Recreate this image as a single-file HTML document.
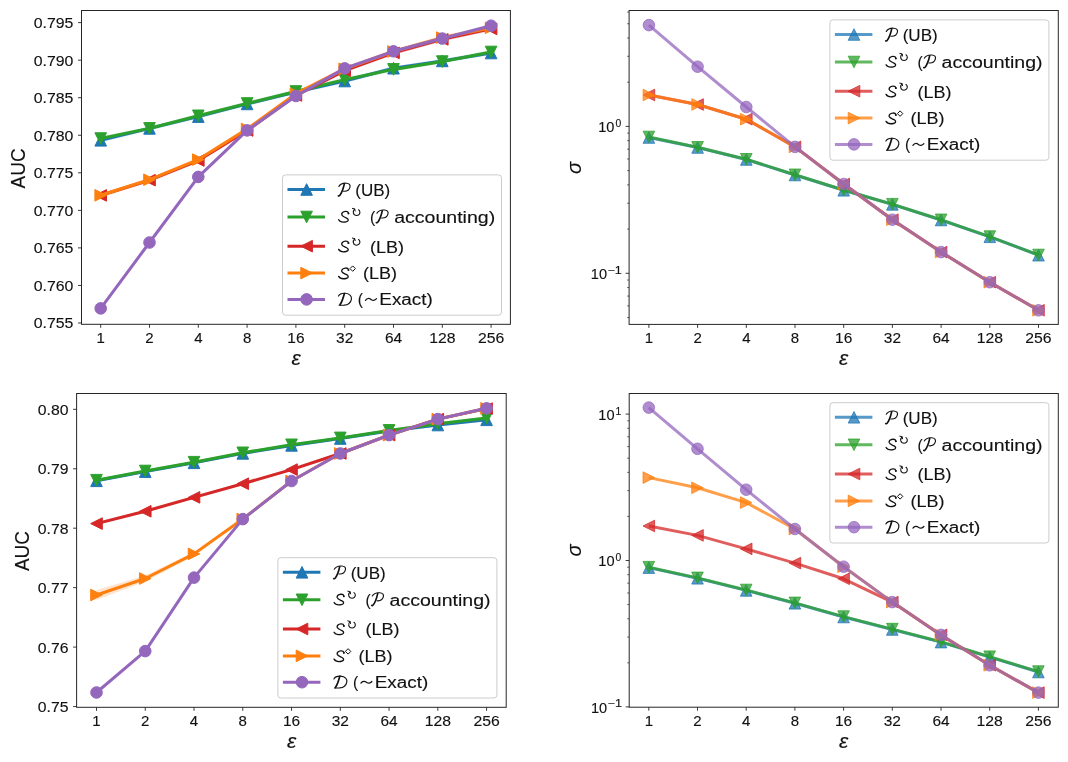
<!DOCTYPE html>
<html><head><meta charset="utf-8"><style>
html,body{margin:0;padding:0;background:#fff;}
svg{display:block;will-change:transform;}
</style></head><body>
<svg width="1068" height="762" viewBox="0 0 1068 762">
<rect x="0" y="0" width="1068" height="762" fill="#fff"/>
<g>
<polygon points="100.70,138.30 149.50,126.40 198.30,114.60 247.10,101.90 295.90,90.00 344.70,79.00 393.50,66.20 442.30,58.90 491.10,51.00 491.10,55.00 442.30,62.90 393.50,70.20 344.70,83.00 295.90,94.00 247.10,105.90 198.30,118.60 149.50,130.40 100.70,142.30" fill="#1f77b4" fill-opacity="0.2" stroke="none"/>
<polyline points="100.70,140.30 149.50,128.40 198.30,116.60 247.10,103.90 295.90,92.00 344.70,81.00 393.50,68.20 442.30,60.90 491.10,53.00" fill="none" stroke="#1f77b4" stroke-opacity="1.0" stroke-width="3.0" stroke-linejoin="round" stroke-linecap="butt"/>
<polygon points="100.70,134.50 94.90,146.10 106.50,146.10" fill="#1f77b4" stroke="#1f77b4" stroke-width="1" stroke-linejoin="miter" fill-opacity="1.0" stroke-opacity="1.0"/>
<polygon points="149.50,122.60 143.70,134.20 155.30,134.20" fill="#1f77b4" stroke="#1f77b4" stroke-width="1" stroke-linejoin="miter" fill-opacity="1.0" stroke-opacity="1.0"/>
<polygon points="198.30,110.80 192.50,122.40 204.10,122.40" fill="#1f77b4" stroke="#1f77b4" stroke-width="1" stroke-linejoin="miter" fill-opacity="1.0" stroke-opacity="1.0"/>
<polygon points="247.10,98.10 241.30,109.70 252.90,109.70" fill="#1f77b4" stroke="#1f77b4" stroke-width="1" stroke-linejoin="miter" fill-opacity="1.0" stroke-opacity="1.0"/>
<polygon points="295.90,86.20 290.10,97.80 301.70,97.80" fill="#1f77b4" stroke="#1f77b4" stroke-width="1" stroke-linejoin="miter" fill-opacity="1.0" stroke-opacity="1.0"/>
<polygon points="344.70,75.20 338.90,86.80 350.50,86.80" fill="#1f77b4" stroke="#1f77b4" stroke-width="1" stroke-linejoin="miter" fill-opacity="1.0" stroke-opacity="1.0"/>
<polygon points="393.50,62.40 387.70,74.00 399.30,74.00" fill="#1f77b4" stroke="#1f77b4" stroke-width="1" stroke-linejoin="miter" fill-opacity="1.0" stroke-opacity="1.0"/>
<polygon points="442.30,55.10 436.50,66.70 448.10,66.70" fill="#1f77b4" stroke="#1f77b4" stroke-width="1" stroke-linejoin="miter" fill-opacity="1.0" stroke-opacity="1.0"/>
<polygon points="491.10,47.20 485.30,58.80 496.90,58.80" fill="#1f77b4" stroke="#1f77b4" stroke-width="1" stroke-linejoin="miter" fill-opacity="1.0" stroke-opacity="1.0"/>
<polygon points="100.70,136.55 149.50,126.40 198.30,113.80 247.10,101.50 295.90,89.50 344.70,77.60 393.50,67.40 442.30,59.60 491.10,50.00 491.10,54.00 442.30,63.60 393.50,71.40 344.70,81.60 295.90,93.50 247.10,105.50 198.30,117.80 149.50,130.40 100.70,140.55" fill="#2ca02c" fill-opacity="0.2" stroke="none"/>
<polyline points="100.70,138.55 149.50,128.40 198.30,115.80 247.10,103.50 295.90,91.50 344.70,79.60 393.50,69.40 442.30,61.60 491.10,52.00" fill="none" stroke="#2ca02c" stroke-opacity="1.0" stroke-width="3.0" stroke-linejoin="round" stroke-linecap="butt"/>
<polygon points="100.70,144.35 94.90,132.75 106.50,132.75" fill="#2ca02c" stroke="#2ca02c" stroke-width="1" stroke-linejoin="miter" fill-opacity="1.0" stroke-opacity="1.0"/>
<polygon points="149.50,134.20 143.70,122.60 155.30,122.60" fill="#2ca02c" stroke="#2ca02c" stroke-width="1" stroke-linejoin="miter" fill-opacity="1.0" stroke-opacity="1.0"/>
<polygon points="198.30,121.60 192.50,110.00 204.10,110.00" fill="#2ca02c" stroke="#2ca02c" stroke-width="1" stroke-linejoin="miter" fill-opacity="1.0" stroke-opacity="1.0"/>
<polygon points="247.10,109.30 241.30,97.70 252.90,97.70" fill="#2ca02c" stroke="#2ca02c" stroke-width="1" stroke-linejoin="miter" fill-opacity="1.0" stroke-opacity="1.0"/>
<polygon points="295.90,97.30 290.10,85.70 301.70,85.70" fill="#2ca02c" stroke="#2ca02c" stroke-width="1" stroke-linejoin="miter" fill-opacity="1.0" stroke-opacity="1.0"/>
<polygon points="344.70,85.40 338.90,73.80 350.50,73.80" fill="#2ca02c" stroke="#2ca02c" stroke-width="1" stroke-linejoin="miter" fill-opacity="1.0" stroke-opacity="1.0"/>
<polygon points="393.50,75.20 387.70,63.60 399.30,63.60" fill="#2ca02c" stroke="#2ca02c" stroke-width="1" stroke-linejoin="miter" fill-opacity="1.0" stroke-opacity="1.0"/>
<polygon points="442.30,67.40 436.50,55.80 448.10,55.80" fill="#2ca02c" stroke="#2ca02c" stroke-width="1" stroke-linejoin="miter" fill-opacity="1.0" stroke-opacity="1.0"/>
<polygon points="491.10,57.80 485.30,46.20 496.90,46.20" fill="#2ca02c" stroke="#2ca02c" stroke-width="1" stroke-linejoin="miter" fill-opacity="1.0" stroke-opacity="1.0"/>
<polygon points="100.70,193.40 149.50,178.20 198.30,158.50 247.10,128.50 295.90,93.50 344.70,68.60 393.50,50.90 442.30,37.40 491.10,26.90 491.10,30.90 442.30,41.40 393.50,54.90 344.70,72.60 295.90,97.50 247.10,132.50 198.30,162.50 149.50,182.20 100.70,197.40" fill="#d62728" fill-opacity="0.2" stroke="none"/>
<polyline points="100.70,195.40 149.50,180.20 198.30,160.50 247.10,130.50 295.90,95.50 344.70,70.60 393.50,52.90 442.30,39.40 491.10,28.90" fill="none" stroke="#d62728" stroke-opacity="1.0" stroke-width="3.0" stroke-linejoin="round" stroke-linecap="butt"/>
<polygon points="94.90,195.40 106.50,189.60 106.50,201.20" fill="#d62728" stroke="#d62728" stroke-width="1" stroke-linejoin="miter" fill-opacity="1.0" stroke-opacity="1.0"/>
<polygon points="143.70,180.20 155.30,174.40 155.30,186.00" fill="#d62728" stroke="#d62728" stroke-width="1" stroke-linejoin="miter" fill-opacity="1.0" stroke-opacity="1.0"/>
<polygon points="192.50,160.50 204.10,154.70 204.10,166.30" fill="#d62728" stroke="#d62728" stroke-width="1" stroke-linejoin="miter" fill-opacity="1.0" stroke-opacity="1.0"/>
<polygon points="241.30,130.50 252.90,124.70 252.90,136.30" fill="#d62728" stroke="#d62728" stroke-width="1" stroke-linejoin="miter" fill-opacity="1.0" stroke-opacity="1.0"/>
<polygon points="290.10,95.50 301.70,89.70 301.70,101.30" fill="#d62728" stroke="#d62728" stroke-width="1" stroke-linejoin="miter" fill-opacity="1.0" stroke-opacity="1.0"/>
<polygon points="338.90,70.60 350.50,64.80 350.50,76.40" fill="#d62728" stroke="#d62728" stroke-width="1" stroke-linejoin="miter" fill-opacity="1.0" stroke-opacity="1.0"/>
<polygon points="387.70,52.90 399.30,47.10 399.30,58.70" fill="#d62728" stroke="#d62728" stroke-width="1" stroke-linejoin="miter" fill-opacity="1.0" stroke-opacity="1.0"/>
<polygon points="436.50,39.40 448.10,33.60 448.10,45.20" fill="#d62728" stroke="#d62728" stroke-width="1" stroke-linejoin="miter" fill-opacity="1.0" stroke-opacity="1.0"/>
<polygon points="485.30,28.90 496.90,23.10 496.90,34.70" fill="#d62728" stroke="#d62728" stroke-width="1" stroke-linejoin="miter" fill-opacity="1.0" stroke-opacity="1.0"/>
<polygon points="100.70,193.30 149.50,177.70 198.30,157.60 247.10,127.00 295.90,91.70 344.70,66.80 393.50,49.50 442.30,35.60 491.10,25.80 491.10,29.80 442.30,39.60 393.50,53.50 344.70,70.80 295.90,95.70 247.10,131.00 198.30,161.60 149.50,181.70 100.70,197.30" fill="#ff7f0e" fill-opacity="0.2" stroke="none"/>
<polyline points="100.70,195.30 149.50,179.70 198.30,159.60 247.10,129.00 295.90,93.70 344.70,68.80 393.50,51.50 442.30,37.60 491.10,27.80" fill="none" stroke="#ff7f0e" stroke-opacity="1.0" stroke-width="3.0" stroke-linejoin="round" stroke-linecap="butt"/>
<polygon points="106.50,195.30 94.90,189.50 94.90,201.10" fill="#ff7f0e" stroke="#ff7f0e" stroke-width="1" stroke-linejoin="miter" fill-opacity="1.0" stroke-opacity="1.0"/>
<polygon points="155.30,179.70 143.70,173.90 143.70,185.50" fill="#ff7f0e" stroke="#ff7f0e" stroke-width="1" stroke-linejoin="miter" fill-opacity="1.0" stroke-opacity="1.0"/>
<polygon points="204.10,159.60 192.50,153.80 192.50,165.40" fill="#ff7f0e" stroke="#ff7f0e" stroke-width="1" stroke-linejoin="miter" fill-opacity="1.0" stroke-opacity="1.0"/>
<polygon points="252.90,129.00 241.30,123.20 241.30,134.80" fill="#ff7f0e" stroke="#ff7f0e" stroke-width="1" stroke-linejoin="miter" fill-opacity="1.0" stroke-opacity="1.0"/>
<polygon points="301.70,93.70 290.10,87.90 290.10,99.50" fill="#ff7f0e" stroke="#ff7f0e" stroke-width="1" stroke-linejoin="miter" fill-opacity="1.0" stroke-opacity="1.0"/>
<polygon points="350.50,68.80 338.90,63.00 338.90,74.60" fill="#ff7f0e" stroke="#ff7f0e" stroke-width="1" stroke-linejoin="miter" fill-opacity="1.0" stroke-opacity="1.0"/>
<polygon points="399.30,51.50 387.70,45.70 387.70,57.30" fill="#ff7f0e" stroke="#ff7f0e" stroke-width="1" stroke-linejoin="miter" fill-opacity="1.0" stroke-opacity="1.0"/>
<polygon points="448.10,37.60 436.50,31.80 436.50,43.40" fill="#ff7f0e" stroke="#ff7f0e" stroke-width="1" stroke-linejoin="miter" fill-opacity="1.0" stroke-opacity="1.0"/>
<polygon points="496.90,27.80 485.30,22.00 485.30,33.60" fill="#ff7f0e" stroke="#ff7f0e" stroke-width="1" stroke-linejoin="miter" fill-opacity="1.0" stroke-opacity="1.0"/>
<polygon points="100.70,306.40 149.50,240.50 198.30,174.90 247.10,128.40 295.90,94.00 344.70,66.40 393.50,49.30 442.30,36.55 491.10,23.70 491.10,27.70 442.30,40.55 393.50,53.30 344.70,70.40 295.90,98.00 247.10,132.40 198.30,178.90 149.50,244.50 100.70,310.40" fill="#9467bd" fill-opacity="0.2" stroke="none"/>
<polyline points="100.70,308.40 149.50,242.50 198.30,176.90 247.10,130.40 295.90,96.00 344.70,68.40 393.50,51.30 442.30,38.55 491.10,25.70" fill="none" stroke="#9467bd" stroke-opacity="1.0" stroke-width="3.0" stroke-linejoin="round" stroke-linecap="butt"/>
<circle cx="100.70" cy="308.40" r="5.80" fill="#9467bd" stroke="#9467bd" stroke-width="1" stroke-linejoin="miter" fill-opacity="1.0" stroke-opacity="1.0"/>
<circle cx="149.50" cy="242.50" r="5.80" fill="#9467bd" stroke="#9467bd" stroke-width="1" stroke-linejoin="miter" fill-opacity="1.0" stroke-opacity="1.0"/>
<circle cx="198.30" cy="176.90" r="5.80" fill="#9467bd" stroke="#9467bd" stroke-width="1" stroke-linejoin="miter" fill-opacity="1.0" stroke-opacity="1.0"/>
<circle cx="247.10" cy="130.40" r="5.80" fill="#9467bd" stroke="#9467bd" stroke-width="1" stroke-linejoin="miter" fill-opacity="1.0" stroke-opacity="1.0"/>
<circle cx="295.90" cy="96.00" r="5.80" fill="#9467bd" stroke="#9467bd" stroke-width="1" stroke-linejoin="miter" fill-opacity="1.0" stroke-opacity="1.0"/>
<circle cx="344.70" cy="68.40" r="5.80" fill="#9467bd" stroke="#9467bd" stroke-width="1" stroke-linejoin="miter" fill-opacity="1.0" stroke-opacity="1.0"/>
<circle cx="393.50" cy="51.30" r="5.80" fill="#9467bd" stroke="#9467bd" stroke-width="1" stroke-linejoin="miter" fill-opacity="1.0" stroke-opacity="1.0"/>
<circle cx="442.30" cy="38.55" r="5.80" fill="#9467bd" stroke="#9467bd" stroke-width="1" stroke-linejoin="miter" fill-opacity="1.0" stroke-opacity="1.0"/>
<circle cx="491.10" cy="25.70" r="5.80" fill="#9467bd" stroke="#9467bd" stroke-width="1" stroke-linejoin="miter" fill-opacity="1.0" stroke-opacity="1.0"/>
<rect x="81.50" y="10.50" width="428.90" height="313.80" fill="none" stroke="#262626" stroke-width="1"/>
<line x1="100.70" y1="324.30" x2="100.70" y2="327.80" stroke="#262626" stroke-width="0.9"/>
<text x="100.70" y="342.70" font-family="Liberation Sans, sans-serif" font-size="15" text-anchor="middle" fill="#111" stroke="#111" stroke-width="0.12">1</text>
<line x1="149.50" y1="324.30" x2="149.50" y2="327.80" stroke="#262626" stroke-width="0.9"/>
<text x="149.50" y="342.70" font-family="Liberation Sans, sans-serif" font-size="15" text-anchor="middle" fill="#111" stroke="#111" stroke-width="0.12">2</text>
<line x1="198.30" y1="324.30" x2="198.30" y2="327.80" stroke="#262626" stroke-width="0.9"/>
<text x="198.30" y="342.70" font-family="Liberation Sans, sans-serif" font-size="15" text-anchor="middle" fill="#111" stroke="#111" stroke-width="0.12">4</text>
<line x1="247.10" y1="324.30" x2="247.10" y2="327.80" stroke="#262626" stroke-width="0.9"/>
<text x="247.10" y="342.70" font-family="Liberation Sans, sans-serif" font-size="15" text-anchor="middle" fill="#111" stroke="#111" stroke-width="0.12">8</text>
<line x1="295.90" y1="324.30" x2="295.90" y2="327.80" stroke="#262626" stroke-width="0.9"/>
<text x="295.90" y="342.70" font-family="Liberation Sans, sans-serif" font-size="15" textLength="17.2" lengthAdjust="spacingAndGlyphs" text-anchor="middle" fill="#111" stroke="#111" stroke-width="0.12">16</text>
<line x1="344.70" y1="324.30" x2="344.70" y2="327.80" stroke="#262626" stroke-width="0.9"/>
<text x="344.70" y="342.70" font-family="Liberation Sans, sans-serif" font-size="15" textLength="17.2" lengthAdjust="spacingAndGlyphs" text-anchor="middle" fill="#111" stroke="#111" stroke-width="0.12">32</text>
<line x1="393.50" y1="324.30" x2="393.50" y2="327.80" stroke="#262626" stroke-width="0.9"/>
<text x="393.50" y="342.70" font-family="Liberation Sans, sans-serif" font-size="15" textLength="17.2" lengthAdjust="spacingAndGlyphs" text-anchor="middle" fill="#111" stroke="#111" stroke-width="0.12">64</text>
<line x1="442.30" y1="324.30" x2="442.30" y2="327.80" stroke="#262626" stroke-width="0.9"/>
<text x="442.30" y="342.70" font-family="Liberation Sans, sans-serif" font-size="15" textLength="26.3" lengthAdjust="spacingAndGlyphs" text-anchor="middle" fill="#111" stroke="#111" stroke-width="0.12">128</text>
<line x1="491.10" y1="324.30" x2="491.10" y2="327.80" stroke="#262626" stroke-width="0.9"/>
<text x="491.10" y="342.70" font-family="Liberation Sans, sans-serif" font-size="15" textLength="26.3" lengthAdjust="spacingAndGlyphs" text-anchor="middle" fill="#111" stroke="#111" stroke-width="0.12">256</text>
<line x1="78.00" y1="323.00" x2="81.50" y2="323.00" stroke="#262626" stroke-width="0.9"/>
<text x="73.40" y="328.40" font-family="Liberation Sans, sans-serif" font-size="14.6" text-anchor="end" textLength="39.7" lengthAdjust="spacingAndGlyphs" fill="#111" stroke="#111" stroke-width="0.12">0.755</text>
<line x1="78.00" y1="285.45" x2="81.50" y2="285.45" stroke="#262626" stroke-width="0.9"/>
<text x="73.40" y="290.85" font-family="Liberation Sans, sans-serif" font-size="14.6" text-anchor="end" textLength="39.7" lengthAdjust="spacingAndGlyphs" fill="#111" stroke="#111" stroke-width="0.12">0.760</text>
<line x1="78.00" y1="247.90" x2="81.50" y2="247.90" stroke="#262626" stroke-width="0.9"/>
<text x="73.40" y="253.30" font-family="Liberation Sans, sans-serif" font-size="14.6" text-anchor="end" textLength="39.7" lengthAdjust="spacingAndGlyphs" fill="#111" stroke="#111" stroke-width="0.12">0.765</text>
<line x1="78.00" y1="210.35" x2="81.50" y2="210.35" stroke="#262626" stroke-width="0.9"/>
<text x="73.40" y="215.75" font-family="Liberation Sans, sans-serif" font-size="14.6" text-anchor="end" textLength="39.7" lengthAdjust="spacingAndGlyphs" fill="#111" stroke="#111" stroke-width="0.12">0.770</text>
<line x1="78.00" y1="172.80" x2="81.50" y2="172.80" stroke="#262626" stroke-width="0.9"/>
<text x="73.40" y="178.20" font-family="Liberation Sans, sans-serif" font-size="14.6" text-anchor="end" textLength="39.7" lengthAdjust="spacingAndGlyphs" fill="#111" stroke="#111" stroke-width="0.12">0.775</text>
<line x1="78.00" y1="135.25" x2="81.50" y2="135.25" stroke="#262626" stroke-width="0.9"/>
<text x="73.40" y="140.65" font-family="Liberation Sans, sans-serif" font-size="14.6" text-anchor="end" textLength="39.7" lengthAdjust="spacingAndGlyphs" fill="#111" stroke="#111" stroke-width="0.12">0.780</text>
<line x1="78.00" y1="97.70" x2="81.50" y2="97.70" stroke="#262626" stroke-width="0.9"/>
<text x="73.40" y="103.10" font-family="Liberation Sans, sans-serif" font-size="14.6" text-anchor="end" textLength="39.7" lengthAdjust="spacingAndGlyphs" fill="#111" stroke="#111" stroke-width="0.12">0.785</text>
<line x1="78.00" y1="60.15" x2="81.50" y2="60.15" stroke="#262626" stroke-width="0.9"/>
<text x="73.40" y="65.55" font-family="Liberation Sans, sans-serif" font-size="14.6" text-anchor="end" textLength="39.7" lengthAdjust="spacingAndGlyphs" fill="#111" stroke="#111" stroke-width="0.12">0.790</text>
<line x1="78.00" y1="22.60" x2="81.50" y2="22.60" stroke="#262626" stroke-width="0.9"/>
<text x="73.40" y="28.00" font-family="Liberation Sans, sans-serif" font-size="14.6" text-anchor="end" textLength="39.7" lengthAdjust="spacingAndGlyphs" fill="#111" stroke="#111" stroke-width="0.12">0.795</text>
<text x="296.20" y="364.80" font-family="Liberation Sans, sans-serif" font-style="italic" font-size="21" text-anchor="middle" fill="#111" stroke="#111" stroke-width="0.12">ε</text>
<text transform="translate(24.60,168.40) rotate(-90)" x="0" y="0" font-family="Liberation Sans, sans-serif" font-size="20.5" text-anchor="middle" textLength="40" lengthAdjust="spacingAndGlyphs" fill="#111" stroke="#111" stroke-width="0.12">AUC</text>
<rect x="282.50" y="174.90" width="219.00" height="140.30" rx="3" ry="3" fill="#fff" fill-opacity="0.8" stroke="#cccccc" stroke-width="1"/>
<line x1="287.50" y1="189.50" x2="325.00" y2="189.50" stroke="#1f77b4" stroke-opacity="1.0" stroke-width="3.0"/>
<polygon points="306.60,183.70 300.80,195.30 312.40,195.30" fill="#1f77b4" stroke="#1f77b4" stroke-width="1" stroke-linejoin="miter" fill-opacity="1.0" stroke-opacity="1.0"/>
<line x1="287.50" y1="217.00" x2="325.00" y2="217.00" stroke="#2ca02c" stroke-opacity="1.0" stroke-width="3.0"/>
<polygon points="306.60,222.80 300.80,211.20 312.40,211.20" fill="#2ca02c" stroke="#2ca02c" stroke-width="1" stroke-linejoin="miter" fill-opacity="1.0" stroke-opacity="1.0"/>
<line x1="287.50" y1="246.20" x2="325.00" y2="246.20" stroke="#d62728" stroke-opacity="1.0" stroke-width="3.0"/>
<polygon points="300.80,246.20 312.40,240.40 312.40,252.00" fill="#d62728" stroke="#d62728" stroke-width="1" stroke-linejoin="miter" fill-opacity="1.0" stroke-opacity="1.0"/>
<line x1="287.50" y1="273.10" x2="325.00" y2="273.10" stroke="#ff7f0e" stroke-opacity="1.0" stroke-width="3.0"/>
<polygon points="312.40,273.10 300.80,267.30 300.80,278.90" fill="#ff7f0e" stroke="#ff7f0e" stroke-width="1" stroke-linejoin="miter" fill-opacity="1.0" stroke-opacity="1.0"/>
<line x1="287.50" y1="299.40" x2="325.00" y2="299.40" stroke="#9467bd" stroke-opacity="1.0" stroke-width="3.0"/>
<circle cx="306.60" cy="299.40" r="5.80" fill="#9467bd" stroke="#9467bd" stroke-width="1" stroke-linejoin="miter" fill-opacity="1.0" stroke-opacity="1.0"/>
<g transform="translate(337.70,196.00)" fill="none" stroke="#111" stroke-linecap="round"><path d="M 1.2,-9.6 C 2.6,-12.0 5.6,-13.0 8.6,-12.8 C 11.6,-12.6 12.9,-11.0 12.3,-8.9 C 11.6,-6.4 9.0,-4.5 5.9,-4.8" stroke-width="1.15"/><path d="M 6.6,-12.0 C 5.7,-8.0 4.2,-3.2 2.0,-0.5 C 1.5,0.1 0.8,0.1 0.6,-0.2" stroke-width="1.6"/></g>
<text x="355.30" y="196.00" font-family="Liberation Sans, sans-serif" font-size="15.6" textLength="35" lengthAdjust="spacingAndGlyphs" fill="#111" stroke="#111" stroke-width="0.12">(UB)</text>
<g transform="translate(338.30,222.60) scale(0.95,0.9)" fill="none" stroke="#111" stroke-linecap="round"><path d="M 10.8,-10.3 C 10.4,-11.9 9.0,-12.5 7.5,-12.4 C 5.0,-12.2 3.2,-10.6 3.7,-8.6 C 4.2,-6.8 6.5,-6.1 8.2,-5.3 C 10.0,-4.5 10.8,-3.3 10.2,-2.1 C 9.3,-0.5 7.0,-0.5 5.3,-0.5 C 3.0,-0.5 1.2,-1.7 0.4,-3.2" stroke-width="1.45"/><circle cx="10.7" cy="-10.1" r="1.0" fill="#111" stroke="none"/></g>
<g transform="translate(337.70,222.80)" fill="none" stroke="#111" stroke-width="1.1" stroke-linecap="round"><path d="M 16.9,-13.6 C 15.9,-12.6 15.3,-11.2 15.7,-9.7 C 16.2,-8.0 17.6,-7.3 18.9,-7.3 C 20.8,-7.3 22.3,-8.8 22.2,-10.6 C 22.1,-11.8 21.6,-12.5 20.9,-13.0"/><path d="M 14.7,-14.4 L 17.0,-13.9 L 17.4,-11.8" stroke-width="1.0"/></g>
<text x="370.00" y="222.80" font-family="Liberation Sans, sans-serif" font-size="15.6" fill="#111" stroke="#111" stroke-width="0.12">(</text>
<g transform="translate(375.70,222.80)" fill="none" stroke="#111" stroke-linecap="round"><path d="M 1.2,-9.6 C 2.6,-12.0 5.6,-13.0 8.6,-12.8 C 11.6,-12.6 12.9,-11.0 12.3,-8.9 C 11.6,-6.4 9.0,-4.5 5.9,-4.8" stroke-width="1.15"/><path d="M 6.6,-12.0 C 5.7,-8.0 4.2,-3.2 2.0,-0.5 C 1.5,0.1 0.8,0.1 0.6,-0.2" stroke-width="1.6"/></g>
<text x="394.20" y="222.80" font-family="Liberation Sans, sans-serif" font-size="15.6" textLength="101" lengthAdjust="spacingAndGlyphs" fill="#111" stroke="#111" stroke-width="0.12">accounting)</text>
<g transform="translate(338.30,252.30) scale(0.95,0.9)" fill="none" stroke="#111" stroke-linecap="round"><path d="M 10.8,-10.3 C 10.4,-11.9 9.0,-12.5 7.5,-12.4 C 5.0,-12.2 3.2,-10.6 3.7,-8.6 C 4.2,-6.8 6.5,-6.1 8.2,-5.3 C 10.0,-4.5 10.8,-3.3 10.2,-2.1 C 9.3,-0.5 7.0,-0.5 5.3,-0.5 C 3.0,-0.5 1.2,-1.7 0.4,-3.2" stroke-width="1.45"/><circle cx="10.7" cy="-10.1" r="1.0" fill="#111" stroke="none"/></g>
<g transform="translate(337.70,252.50)" fill="none" stroke="#111" stroke-width="1.1" stroke-linecap="round"><path d="M 16.9,-13.6 C 15.9,-12.6 15.3,-11.2 15.7,-9.7 C 16.2,-8.0 17.6,-7.3 18.9,-7.3 C 20.8,-7.3 22.3,-8.8 22.2,-10.6 C 22.1,-11.8 21.6,-12.5 20.9,-13.0"/><path d="M 14.7,-14.4 L 17.0,-13.9 L 17.4,-11.8" stroke-width="1.0"/></g>
<text x="370.00" y="252.50" font-family="Liberation Sans, sans-serif" font-size="15.6" textLength="34" lengthAdjust="spacingAndGlyphs" fill="#111" stroke="#111" stroke-width="0.12">(LB)</text>
<g transform="translate(338.30,279.20) scale(0.95,0.9)" fill="none" stroke="#111" stroke-linecap="round"><path d="M 10.8,-10.3 C 10.4,-11.9 9.0,-12.5 7.5,-12.4 C 5.0,-12.2 3.2,-10.6 3.7,-8.6 C 4.2,-6.8 6.5,-6.1 8.2,-5.3 C 10.0,-4.5 10.8,-3.3 10.2,-2.1 C 9.3,-0.5 7.0,-0.5 5.3,-0.5 C 3.0,-0.5 1.2,-1.7 0.4,-3.2" stroke-width="1.45"/><circle cx="10.7" cy="-10.1" r="1.0" fill="#111" stroke="none"/></g>
<path d="M 352.70 265.90 L 355.40 268.60 L 352.70 271.30 L 350.00 268.60 Z" fill="none" stroke="#111" stroke-width="1.0"/>
<text x="363.00" y="279.40" font-family="Liberation Sans, sans-serif" font-size="15.6" textLength="34" lengthAdjust="spacingAndGlyphs" fill="#111" stroke="#111" stroke-width="0.12">(LB)</text>
<g transform="translate(337.70,304.70)" fill="none" stroke="#111" stroke-linecap="round"><path d="M 0.8,-8.6 C 1.9,-10.9 4.6,-11.6 7.6,-11.4 C 12.1,-11.0 14.3,-8.4 13.7,-5.4 C 13.0,-1.9 10.0,0.2 6.5,0.4 L 1.4,0.5" stroke-width="1.15"/><path d="M 6.7,-11.2 C 5.6,-7.0 4.4,-3.0 2.3,0.1" stroke-width="1.7"/></g>
<text x="357.70" y="304.70" font-family="Liberation Sans, sans-serif" font-size="15.6" fill="#111" stroke="#111" stroke-width="0.12">(</text>
<path transform="translate(337.70,304.70)" d="M 27.8,-4.4 C 29.5,-6.6 31.5,-6.7 33.3,-5.3 C 35.0,-3.9 37.0,-3.8 38.8,-6.0" fill="none" stroke="#111" stroke-width="1.25" stroke-linecap="round"/>
<text x="379.30" y="304.70" font-family="Liberation Sans, sans-serif" font-size="15.6" textLength="53.5" lengthAdjust="spacingAndGlyphs" fill="#111" stroke="#111" stroke-width="0.12">Exact)</text>
</g>
<polyline points="648.90,137.50 697.60,147.50 746.30,159.50 795.00,175.00 843.70,190.30 892.40,204.40 941.10,220.00 989.80,236.80 1038.50,255.20" fill="none" stroke="#1f77b4" stroke-opacity="0.75" stroke-width="3.0" stroke-linejoin="round" stroke-linecap="butt"/>
<polygon points="648.90,131.70 643.10,143.30 654.70,143.30" fill="#1f77b4" stroke="#1f77b4" stroke-width="1" stroke-linejoin="miter" fill-opacity="0.75" stroke-opacity="0.75"/>
<polygon points="697.60,141.70 691.80,153.30 703.40,153.30" fill="#1f77b4" stroke="#1f77b4" stroke-width="1" stroke-linejoin="miter" fill-opacity="0.75" stroke-opacity="0.75"/>
<polygon points="746.30,153.70 740.50,165.30 752.10,165.30" fill="#1f77b4" stroke="#1f77b4" stroke-width="1" stroke-linejoin="miter" fill-opacity="0.75" stroke-opacity="0.75"/>
<polygon points="795.00,169.20 789.20,180.80 800.80,180.80" fill="#1f77b4" stroke="#1f77b4" stroke-width="1" stroke-linejoin="miter" fill-opacity="0.75" stroke-opacity="0.75"/>
<polygon points="843.70,184.50 837.90,196.10 849.50,196.10" fill="#1f77b4" stroke="#1f77b4" stroke-width="1" stroke-linejoin="miter" fill-opacity="0.75" stroke-opacity="0.75"/>
<polygon points="892.40,198.60 886.60,210.20 898.20,210.20" fill="#1f77b4" stroke="#1f77b4" stroke-width="1" stroke-linejoin="miter" fill-opacity="0.75" stroke-opacity="0.75"/>
<polygon points="941.10,214.20 935.30,225.80 946.90,225.80" fill="#1f77b4" stroke="#1f77b4" stroke-width="1" stroke-linejoin="miter" fill-opacity="0.75" stroke-opacity="0.75"/>
<polygon points="989.80,231.00 984.00,242.60 995.60,242.60" fill="#1f77b4" stroke="#1f77b4" stroke-width="1" stroke-linejoin="miter" fill-opacity="0.75" stroke-opacity="0.75"/>
<polygon points="1038.50,249.40 1032.70,261.00 1044.30,261.00" fill="#1f77b4" stroke="#1f77b4" stroke-width="1" stroke-linejoin="miter" fill-opacity="0.75" stroke-opacity="0.75"/>
<polyline points="648.90,137.00 697.60,147.30 746.30,159.30 795.00,174.80 843.70,190.00 892.40,204.20 941.10,219.80 989.80,236.60 1038.50,255.00" fill="none" stroke="#2ca02c" stroke-opacity="0.75" stroke-width="3.0" stroke-linejoin="round" stroke-linecap="butt"/>
<polygon points="648.90,142.80 643.10,131.20 654.70,131.20" fill="#2ca02c" stroke="#2ca02c" stroke-width="1" stroke-linejoin="miter" fill-opacity="0.75" stroke-opacity="0.75"/>
<polygon points="697.60,153.10 691.80,141.50 703.40,141.50" fill="#2ca02c" stroke="#2ca02c" stroke-width="1" stroke-linejoin="miter" fill-opacity="0.75" stroke-opacity="0.75"/>
<polygon points="746.30,165.10 740.50,153.50 752.10,153.50" fill="#2ca02c" stroke="#2ca02c" stroke-width="1" stroke-linejoin="miter" fill-opacity="0.75" stroke-opacity="0.75"/>
<polygon points="795.00,180.60 789.20,169.00 800.80,169.00" fill="#2ca02c" stroke="#2ca02c" stroke-width="1" stroke-linejoin="miter" fill-opacity="0.75" stroke-opacity="0.75"/>
<polygon points="843.70,195.80 837.90,184.20 849.50,184.20" fill="#2ca02c" stroke="#2ca02c" stroke-width="1" stroke-linejoin="miter" fill-opacity="0.75" stroke-opacity="0.75"/>
<polygon points="892.40,210.00 886.60,198.40 898.20,198.40" fill="#2ca02c" stroke="#2ca02c" stroke-width="1" stroke-linejoin="miter" fill-opacity="0.75" stroke-opacity="0.75"/>
<polygon points="941.10,225.60 935.30,214.00 946.90,214.00" fill="#2ca02c" stroke="#2ca02c" stroke-width="1" stroke-linejoin="miter" fill-opacity="0.75" stroke-opacity="0.75"/>
<polygon points="989.80,242.40 984.00,230.80 995.60,230.80" fill="#2ca02c" stroke="#2ca02c" stroke-width="1" stroke-linejoin="miter" fill-opacity="0.75" stroke-opacity="0.75"/>
<polygon points="1038.50,260.80 1032.70,249.20 1044.30,249.20" fill="#2ca02c" stroke="#2ca02c" stroke-width="1" stroke-linejoin="miter" fill-opacity="0.75" stroke-opacity="0.75"/>
<polyline points="648.90,95.00 697.60,104.50 746.30,119.20 795.00,146.90 843.70,184.00 892.40,219.70 941.10,252.10 989.80,282.20 1038.50,310.30" fill="none" stroke="#d62728" stroke-opacity="0.75" stroke-width="3.0" stroke-linejoin="round" stroke-linecap="butt"/>
<polygon points="643.10,95.00 654.70,89.20 654.70,100.80" fill="#d62728" stroke="#d62728" stroke-width="1" stroke-linejoin="miter" fill-opacity="0.75" stroke-opacity="0.75"/>
<polygon points="691.80,104.50 703.40,98.70 703.40,110.30" fill="#d62728" stroke="#d62728" stroke-width="1" stroke-linejoin="miter" fill-opacity="0.75" stroke-opacity="0.75"/>
<polygon points="740.50,119.20 752.10,113.40 752.10,125.00" fill="#d62728" stroke="#d62728" stroke-width="1" stroke-linejoin="miter" fill-opacity="0.75" stroke-opacity="0.75"/>
<polygon points="789.20,146.90 800.80,141.10 800.80,152.70" fill="#d62728" stroke="#d62728" stroke-width="1" stroke-linejoin="miter" fill-opacity="0.75" stroke-opacity="0.75"/>
<polygon points="837.90,184.00 849.50,178.20 849.50,189.80" fill="#d62728" stroke="#d62728" stroke-width="1" stroke-linejoin="miter" fill-opacity="0.75" stroke-opacity="0.75"/>
<polygon points="886.60,219.70 898.20,213.90 898.20,225.50" fill="#d62728" stroke="#d62728" stroke-width="1" stroke-linejoin="miter" fill-opacity="0.75" stroke-opacity="0.75"/>
<polygon points="935.30,252.10 946.90,246.30 946.90,257.90" fill="#d62728" stroke="#d62728" stroke-width="1" stroke-linejoin="miter" fill-opacity="0.75" stroke-opacity="0.75"/>
<polygon points="984.00,282.20 995.60,276.40 995.60,288.00" fill="#d62728" stroke="#d62728" stroke-width="1" stroke-linejoin="miter" fill-opacity="0.75" stroke-opacity="0.75"/>
<polygon points="1032.70,310.30 1044.30,304.50 1044.30,316.10" fill="#d62728" stroke="#d62728" stroke-width="1" stroke-linejoin="miter" fill-opacity="0.75" stroke-opacity="0.75"/>
<polyline points="648.90,95.00 697.60,104.50 746.30,119.20 795.00,146.90 843.70,184.00 892.40,219.70 941.10,252.10 989.80,282.20 1038.50,310.30" fill="none" stroke="#ff7f0e" stroke-opacity="0.75" stroke-width="3.0" stroke-linejoin="round" stroke-linecap="butt"/>
<polygon points="654.70,95.00 643.10,89.20 643.10,100.80" fill="#ff7f0e" stroke="#ff7f0e" stroke-width="1" stroke-linejoin="miter" fill-opacity="0.75" stroke-opacity="0.75"/>
<polygon points="703.40,104.50 691.80,98.70 691.80,110.30" fill="#ff7f0e" stroke="#ff7f0e" stroke-width="1" stroke-linejoin="miter" fill-opacity="0.75" stroke-opacity="0.75"/>
<polygon points="752.10,119.20 740.50,113.40 740.50,125.00" fill="#ff7f0e" stroke="#ff7f0e" stroke-width="1" stroke-linejoin="miter" fill-opacity="0.75" stroke-opacity="0.75"/>
<polygon points="800.80,146.90 789.20,141.10 789.20,152.70" fill="#ff7f0e" stroke="#ff7f0e" stroke-width="1" stroke-linejoin="miter" fill-opacity="0.75" stroke-opacity="0.75"/>
<polygon points="849.50,184.00 837.90,178.20 837.90,189.80" fill="#ff7f0e" stroke="#ff7f0e" stroke-width="1" stroke-linejoin="miter" fill-opacity="0.75" stroke-opacity="0.75"/>
<polygon points="898.20,219.70 886.60,213.90 886.60,225.50" fill="#ff7f0e" stroke="#ff7f0e" stroke-width="1" stroke-linejoin="miter" fill-opacity="0.75" stroke-opacity="0.75"/>
<polygon points="946.90,252.10 935.30,246.30 935.30,257.90" fill="#ff7f0e" stroke="#ff7f0e" stroke-width="1" stroke-linejoin="miter" fill-opacity="0.75" stroke-opacity="0.75"/>
<polygon points="995.60,282.20 984.00,276.40 984.00,288.00" fill="#ff7f0e" stroke="#ff7f0e" stroke-width="1" stroke-linejoin="miter" fill-opacity="0.75" stroke-opacity="0.75"/>
<polygon points="1044.30,310.30 1032.70,304.50 1032.70,316.10" fill="#ff7f0e" stroke="#ff7f0e" stroke-width="1" stroke-linejoin="miter" fill-opacity="0.75" stroke-opacity="0.75"/>
<polyline points="648.90,25.10 697.60,66.70 746.30,107.00 795.00,146.90 843.70,184.00 892.40,219.70 941.10,252.10 989.80,282.20 1038.50,310.30" fill="none" stroke="#9467bd" stroke-opacity="0.75" stroke-width="3.0" stroke-linejoin="round" stroke-linecap="butt"/>
<circle cx="648.90" cy="25.10" r="5.80" fill="#9467bd" stroke="#9467bd" stroke-width="1" stroke-linejoin="miter" fill-opacity="0.75" stroke-opacity="0.75"/>
<circle cx="697.60" cy="66.70" r="5.80" fill="#9467bd" stroke="#9467bd" stroke-width="1" stroke-linejoin="miter" fill-opacity="0.75" stroke-opacity="0.75"/>
<circle cx="746.30" cy="107.00" r="5.80" fill="#9467bd" stroke="#9467bd" stroke-width="1" stroke-linejoin="miter" fill-opacity="0.75" stroke-opacity="0.75"/>
<circle cx="795.00" cy="146.90" r="5.80" fill="#9467bd" stroke="#9467bd" stroke-width="1" stroke-linejoin="miter" fill-opacity="0.75" stroke-opacity="0.75"/>
<circle cx="843.70" cy="184.00" r="5.80" fill="#9467bd" stroke="#9467bd" stroke-width="1" stroke-linejoin="miter" fill-opacity="0.75" stroke-opacity="0.75"/>
<circle cx="892.40" cy="219.70" r="5.80" fill="#9467bd" stroke="#9467bd" stroke-width="1" stroke-linejoin="miter" fill-opacity="0.75" stroke-opacity="0.75"/>
<circle cx="941.10" cy="252.10" r="5.80" fill="#9467bd" stroke="#9467bd" stroke-width="1" stroke-linejoin="miter" fill-opacity="0.75" stroke-opacity="0.75"/>
<circle cx="989.80" cy="282.20" r="5.80" fill="#9467bd" stroke="#9467bd" stroke-width="1" stroke-linejoin="miter" fill-opacity="0.75" stroke-opacity="0.75"/>
<circle cx="1038.50" cy="310.30" r="5.80" fill="#9467bd" stroke="#9467bd" stroke-width="1" stroke-linejoin="miter" fill-opacity="0.75" stroke-opacity="0.75"/>
<rect x="629.10" y="10.50" width="429.20" height="313.90" fill="none" stroke="#262626" stroke-width="1"/>
<line x1="648.90" y1="324.40" x2="648.90" y2="327.90" stroke="#262626" stroke-width="0.9"/>
<text x="648.90" y="342.80" font-family="Liberation Sans, sans-serif" font-size="15" text-anchor="middle" fill="#111" stroke="#111" stroke-width="0.12">1</text>
<line x1="697.60" y1="324.40" x2="697.60" y2="327.90" stroke="#262626" stroke-width="0.9"/>
<text x="697.60" y="342.80" font-family="Liberation Sans, sans-serif" font-size="15" text-anchor="middle" fill="#111" stroke="#111" stroke-width="0.12">2</text>
<line x1="746.30" y1="324.40" x2="746.30" y2="327.90" stroke="#262626" stroke-width="0.9"/>
<text x="746.30" y="342.80" font-family="Liberation Sans, sans-serif" font-size="15" text-anchor="middle" fill="#111" stroke="#111" stroke-width="0.12">4</text>
<line x1="795.00" y1="324.40" x2="795.00" y2="327.90" stroke="#262626" stroke-width="0.9"/>
<text x="795.00" y="342.80" font-family="Liberation Sans, sans-serif" font-size="15" text-anchor="middle" fill="#111" stroke="#111" stroke-width="0.12">8</text>
<line x1="843.70" y1="324.40" x2="843.70" y2="327.90" stroke="#262626" stroke-width="0.9"/>
<text x="843.70" y="342.80" font-family="Liberation Sans, sans-serif" font-size="15" textLength="17.2" lengthAdjust="spacingAndGlyphs" text-anchor="middle" fill="#111" stroke="#111" stroke-width="0.12">16</text>
<line x1="892.40" y1="324.40" x2="892.40" y2="327.90" stroke="#262626" stroke-width="0.9"/>
<text x="892.40" y="342.80" font-family="Liberation Sans, sans-serif" font-size="15" textLength="17.2" lengthAdjust="spacingAndGlyphs" text-anchor="middle" fill="#111" stroke="#111" stroke-width="0.12">32</text>
<line x1="941.10" y1="324.40" x2="941.10" y2="327.90" stroke="#262626" stroke-width="0.9"/>
<text x="941.10" y="342.80" font-family="Liberation Sans, sans-serif" font-size="15" textLength="17.2" lengthAdjust="spacingAndGlyphs" text-anchor="middle" fill="#111" stroke="#111" stroke-width="0.12">64</text>
<line x1="989.80" y1="324.40" x2="989.80" y2="327.90" stroke="#262626" stroke-width="0.9"/>
<text x="989.80" y="342.80" font-family="Liberation Sans, sans-serif" font-size="15" textLength="26.3" lengthAdjust="spacingAndGlyphs" text-anchor="middle" fill="#111" stroke="#111" stroke-width="0.12">128</text>
<line x1="1038.50" y1="324.40" x2="1038.50" y2="327.90" stroke="#262626" stroke-width="0.9"/>
<text x="1038.50" y="342.80" font-family="Liberation Sans, sans-serif" font-size="15" textLength="26.3" lengthAdjust="spacingAndGlyphs" text-anchor="middle" fill="#111" stroke="#111" stroke-width="0.12">256</text>
<line x1="627.10" y1="317.52" x2="629.10" y2="317.52" stroke="#262626" stroke-width="0.7"/>
<line x1="627.10" y1="305.89" x2="629.10" y2="305.89" stroke="#262626" stroke-width="0.7"/>
<line x1="627.10" y1="296.06" x2="629.10" y2="296.06" stroke="#262626" stroke-width="0.7"/>
<line x1="627.10" y1="287.54" x2="629.10" y2="287.54" stroke="#262626" stroke-width="0.7"/>
<line x1="627.10" y1="280.02" x2="629.10" y2="280.02" stroke="#262626" stroke-width="0.7"/>
<line x1="625.60" y1="273.30" x2="629.10" y2="273.30" stroke="#262626" stroke-width="0.9"/>
<line x1="627.10" y1="229.08" x2="629.10" y2="229.08" stroke="#262626" stroke-width="0.7"/>
<line x1="627.10" y1="203.21" x2="629.10" y2="203.21" stroke="#262626" stroke-width="0.7"/>
<line x1="627.10" y1="184.86" x2="629.10" y2="184.86" stroke="#262626" stroke-width="0.7"/>
<line x1="627.10" y1="170.62" x2="629.10" y2="170.62" stroke="#262626" stroke-width="0.7"/>
<line x1="627.10" y1="158.99" x2="629.10" y2="158.99" stroke="#262626" stroke-width="0.7"/>
<line x1="627.10" y1="149.16" x2="629.10" y2="149.16" stroke="#262626" stroke-width="0.7"/>
<line x1="627.10" y1="140.64" x2="629.10" y2="140.64" stroke="#262626" stroke-width="0.7"/>
<line x1="627.10" y1="133.12" x2="629.10" y2="133.12" stroke="#262626" stroke-width="0.7"/>
<line x1="625.60" y1="126.40" x2="629.10" y2="126.40" stroke="#262626" stroke-width="0.9"/>
<line x1="627.10" y1="82.18" x2="629.10" y2="82.18" stroke="#262626" stroke-width="0.7"/>
<line x1="627.10" y1="56.31" x2="629.10" y2="56.31" stroke="#262626" stroke-width="0.7"/>
<line x1="627.10" y1="37.96" x2="629.10" y2="37.96" stroke="#262626" stroke-width="0.7"/>
<line x1="627.10" y1="23.72" x2="629.10" y2="23.72" stroke="#262626" stroke-width="0.7"/>
<line x1="627.10" y1="12.09" x2="629.10" y2="12.09" stroke="#262626" stroke-width="0.7"/>
<text x="598.20" y="132.30" font-family="Liberation Sans, sans-serif" font-size="14.6" textLength="16.2" lengthAdjust="spacingAndGlyphs" fill="#111" stroke="#111" stroke-width="0.12">10</text>
<text x="615.50" y="126.90" font-family="Liberation Sans, sans-serif" font-size="10.3" fill="#111" stroke="#111" stroke-width="0.12">0</text>
<text x="590.80" y="279.00" font-family="Liberation Sans, sans-serif" font-size="14.6" textLength="16.2" lengthAdjust="spacingAndGlyphs" fill="#111" stroke="#111" stroke-width="0.12">10</text>
<text x="607.50" y="273.80" font-family="Liberation Sans, sans-serif" font-size="10.3" textLength="14.4" lengthAdjust="spacingAndGlyphs" fill="#111" stroke="#111" stroke-width="0.12">−1</text>
<text x="843.70" y="364.90" font-family="Liberation Sans, sans-serif" font-style="italic" font-size="21" text-anchor="middle" fill="#111" stroke="#111" stroke-width="0.12">ε</text>
<text transform="translate(580.70,168.00) rotate(-90)" x="0" y="0" font-family="Liberation Sans, sans-serif" font-style="italic" font-size="20" text-anchor="middle" fill="#111" stroke="#111" stroke-width="0.12">σ</text>
<rect x="829.90" y="19.90" width="219.00" height="140.30" rx="3" ry="3" fill="#fff" fill-opacity="0.8" stroke="#cccccc" stroke-width="1"/>
<line x1="834.90" y1="34.50" x2="872.40" y2="34.50" stroke="#1f77b4" stroke-opacity="0.75" stroke-width="3.0"/>
<polygon points="854.00,28.70 848.20,40.30 859.80,40.30" fill="#1f77b4" stroke="#1f77b4" stroke-width="1" stroke-linejoin="miter" fill-opacity="0.75" stroke-opacity="0.75"/>
<line x1="834.90" y1="62.00" x2="872.40" y2="62.00" stroke="#2ca02c" stroke-opacity="0.75" stroke-width="3.0"/>
<polygon points="854.00,67.80 848.20,56.20 859.80,56.20" fill="#2ca02c" stroke="#2ca02c" stroke-width="1" stroke-linejoin="miter" fill-opacity="0.75" stroke-opacity="0.75"/>
<line x1="834.90" y1="91.20" x2="872.40" y2="91.20" stroke="#d62728" stroke-opacity="0.75" stroke-width="3.0"/>
<polygon points="848.20,91.20 859.80,85.40 859.80,97.00" fill="#d62728" stroke="#d62728" stroke-width="1" stroke-linejoin="miter" fill-opacity="0.75" stroke-opacity="0.75"/>
<line x1="834.90" y1="118.10" x2="872.40" y2="118.10" stroke="#ff7f0e" stroke-opacity="0.75" stroke-width="3.0"/>
<polygon points="859.80,118.10 848.20,112.30 848.20,123.90" fill="#ff7f0e" stroke="#ff7f0e" stroke-width="1" stroke-linejoin="miter" fill-opacity="0.75" stroke-opacity="0.75"/>
<line x1="834.90" y1="144.40" x2="872.40" y2="144.40" stroke="#9467bd" stroke-opacity="0.75" stroke-width="3.0"/>
<circle cx="854.00" cy="144.40" r="5.80" fill="#9467bd" stroke="#9467bd" stroke-width="1" stroke-linejoin="miter" fill-opacity="0.75" stroke-opacity="0.75"/>
<g transform="translate(885.10,41.00)" fill="none" stroke="#111" stroke-linecap="round"><path d="M 1.2,-9.6 C 2.6,-12.0 5.6,-13.0 8.6,-12.8 C 11.6,-12.6 12.9,-11.0 12.3,-8.9 C 11.6,-6.4 9.0,-4.5 5.9,-4.8" stroke-width="1.15"/><path d="M 6.6,-12.0 C 5.7,-8.0 4.2,-3.2 2.0,-0.5 C 1.5,0.1 0.8,0.1 0.6,-0.2" stroke-width="1.6"/></g>
<text x="902.70" y="41.00" font-family="Liberation Sans, sans-serif" font-size="15.6" textLength="35" lengthAdjust="spacingAndGlyphs" fill="#111" stroke="#111" stroke-width="0.12">(UB)</text>
<g transform="translate(885.70,67.60) scale(0.95,0.9)" fill="none" stroke="#111" stroke-linecap="round"><path d="M 10.8,-10.3 C 10.4,-11.9 9.0,-12.5 7.5,-12.4 C 5.0,-12.2 3.2,-10.6 3.7,-8.6 C 4.2,-6.8 6.5,-6.1 8.2,-5.3 C 10.0,-4.5 10.8,-3.3 10.2,-2.1 C 9.3,-0.5 7.0,-0.5 5.3,-0.5 C 3.0,-0.5 1.2,-1.7 0.4,-3.2" stroke-width="1.45"/><circle cx="10.7" cy="-10.1" r="1.0" fill="#111" stroke="none"/></g>
<g transform="translate(885.10,67.80)" fill="none" stroke="#111" stroke-width="1.1" stroke-linecap="round"><path d="M 16.9,-13.6 C 15.9,-12.6 15.3,-11.2 15.7,-9.7 C 16.2,-8.0 17.6,-7.3 18.9,-7.3 C 20.8,-7.3 22.3,-8.8 22.2,-10.6 C 22.1,-11.8 21.6,-12.5 20.9,-13.0"/><path d="M 14.7,-14.4 L 17.0,-13.9 L 17.4,-11.8" stroke-width="1.0"/></g>
<text x="917.40" y="67.80" font-family="Liberation Sans, sans-serif" font-size="15.6" fill="#111" stroke="#111" stroke-width="0.12">(</text>
<g transform="translate(923.10,67.80)" fill="none" stroke="#111" stroke-linecap="round"><path d="M 1.2,-9.6 C 2.6,-12.0 5.6,-13.0 8.6,-12.8 C 11.6,-12.6 12.9,-11.0 12.3,-8.9 C 11.6,-6.4 9.0,-4.5 5.9,-4.8" stroke-width="1.15"/><path d="M 6.6,-12.0 C 5.7,-8.0 4.2,-3.2 2.0,-0.5 C 1.5,0.1 0.8,0.1 0.6,-0.2" stroke-width="1.6"/></g>
<text x="941.60" y="67.80" font-family="Liberation Sans, sans-serif" font-size="15.6" textLength="101" lengthAdjust="spacingAndGlyphs" fill="#111" stroke="#111" stroke-width="0.12">accounting)</text>
<g transform="translate(885.70,97.30) scale(0.95,0.9)" fill="none" stroke="#111" stroke-linecap="round"><path d="M 10.8,-10.3 C 10.4,-11.9 9.0,-12.5 7.5,-12.4 C 5.0,-12.2 3.2,-10.6 3.7,-8.6 C 4.2,-6.8 6.5,-6.1 8.2,-5.3 C 10.0,-4.5 10.8,-3.3 10.2,-2.1 C 9.3,-0.5 7.0,-0.5 5.3,-0.5 C 3.0,-0.5 1.2,-1.7 0.4,-3.2" stroke-width="1.45"/><circle cx="10.7" cy="-10.1" r="1.0" fill="#111" stroke="none"/></g>
<g transform="translate(885.10,97.50)" fill="none" stroke="#111" stroke-width="1.1" stroke-linecap="round"><path d="M 16.9,-13.6 C 15.9,-12.6 15.3,-11.2 15.7,-9.7 C 16.2,-8.0 17.6,-7.3 18.9,-7.3 C 20.8,-7.3 22.3,-8.8 22.2,-10.6 C 22.1,-11.8 21.6,-12.5 20.9,-13.0"/><path d="M 14.7,-14.4 L 17.0,-13.9 L 17.4,-11.8" stroke-width="1.0"/></g>
<text x="917.40" y="97.50" font-family="Liberation Sans, sans-serif" font-size="15.6" textLength="34" lengthAdjust="spacingAndGlyphs" fill="#111" stroke="#111" stroke-width="0.12">(LB)</text>
<g transform="translate(885.70,124.20) scale(0.95,0.9)" fill="none" stroke="#111" stroke-linecap="round"><path d="M 10.8,-10.3 C 10.4,-11.9 9.0,-12.5 7.5,-12.4 C 5.0,-12.2 3.2,-10.6 3.7,-8.6 C 4.2,-6.8 6.5,-6.1 8.2,-5.3 C 10.0,-4.5 10.8,-3.3 10.2,-2.1 C 9.3,-0.5 7.0,-0.5 5.3,-0.5 C 3.0,-0.5 1.2,-1.7 0.4,-3.2" stroke-width="1.45"/><circle cx="10.7" cy="-10.1" r="1.0" fill="#111" stroke="none"/></g>
<path d="M 900.10 110.90 L 902.80 113.60 L 900.10 116.30 L 897.40 113.60 Z" fill="none" stroke="#111" stroke-width="1.0"/>
<text x="910.40" y="124.40" font-family="Liberation Sans, sans-serif" font-size="15.6" textLength="34" lengthAdjust="spacingAndGlyphs" fill="#111" stroke="#111" stroke-width="0.12">(LB)</text>
<g transform="translate(885.10,149.70)" fill="none" stroke="#111" stroke-linecap="round"><path d="M 0.8,-8.6 C 1.9,-10.9 4.6,-11.6 7.6,-11.4 C 12.1,-11.0 14.3,-8.4 13.7,-5.4 C 13.0,-1.9 10.0,0.2 6.5,0.4 L 1.4,0.5" stroke-width="1.15"/><path d="M 6.7,-11.2 C 5.6,-7.0 4.4,-3.0 2.3,0.1" stroke-width="1.7"/></g>
<text x="905.10" y="149.70" font-family="Liberation Sans, sans-serif" font-size="15.6" fill="#111" stroke="#111" stroke-width="0.12">(</text>
<path transform="translate(885.10,149.70)" d="M 27.8,-4.4 C 29.5,-6.6 31.5,-6.7 33.3,-5.3 C 35.0,-3.9 37.0,-3.8 38.8,-6.0" fill="none" stroke="#111" stroke-width="1.25" stroke-linecap="round"/>
<text x="926.70" y="149.70" font-family="Liberation Sans, sans-serif" font-size="15.6" textLength="53.5" lengthAdjust="spacingAndGlyphs" fill="#111" stroke="#111" stroke-width="0.12">Exact)</text>
<polygon points="96.50,479.30 145.26,470.10 194.02,461.30 242.78,451.90 291.54,443.90 340.30,437.00 389.06,429.50 437.82,423.50 486.58,418.30 486.58,421.30 437.82,426.50 389.06,432.50 340.30,440.00 291.54,446.90 242.78,454.90 194.02,464.30 145.26,473.10 96.50,482.30" fill="#1f77b4" fill-opacity="0.2" stroke="none"/>
<polyline points="96.50,480.80 145.26,471.60 194.02,462.80 242.78,453.40 291.54,445.40 340.30,438.50 389.06,431.00 437.82,425.00 486.58,419.80" fill="none" stroke="#1f77b4" stroke-opacity="1.0" stroke-width="3.0" stroke-linejoin="round" stroke-linecap="butt"/>
<polygon points="96.50,475.00 90.70,486.60 102.30,486.60" fill="#1f77b4" stroke="#1f77b4" stroke-width="1" stroke-linejoin="miter" fill-opacity="1.0" stroke-opacity="1.0"/>
<polygon points="145.26,465.80 139.46,477.40 151.06,477.40" fill="#1f77b4" stroke="#1f77b4" stroke-width="1" stroke-linejoin="miter" fill-opacity="1.0" stroke-opacity="1.0"/>
<polygon points="194.02,457.00 188.22,468.60 199.82,468.60" fill="#1f77b4" stroke="#1f77b4" stroke-width="1" stroke-linejoin="miter" fill-opacity="1.0" stroke-opacity="1.0"/>
<polygon points="242.78,447.60 236.98,459.20 248.58,459.20" fill="#1f77b4" stroke="#1f77b4" stroke-width="1" stroke-linejoin="miter" fill-opacity="1.0" stroke-opacity="1.0"/>
<polygon points="291.54,439.60 285.74,451.20 297.34,451.20" fill="#1f77b4" stroke="#1f77b4" stroke-width="1" stroke-linejoin="miter" fill-opacity="1.0" stroke-opacity="1.0"/>
<polygon points="340.30,432.70 334.50,444.30 346.10,444.30" fill="#1f77b4" stroke="#1f77b4" stroke-width="1" stroke-linejoin="miter" fill-opacity="1.0" stroke-opacity="1.0"/>
<polygon points="389.06,425.20 383.26,436.80 394.86,436.80" fill="#1f77b4" stroke="#1f77b4" stroke-width="1" stroke-linejoin="miter" fill-opacity="1.0" stroke-opacity="1.0"/>
<polygon points="437.82,419.20 432.02,430.80 443.62,430.80" fill="#1f77b4" stroke="#1f77b4" stroke-width="1" stroke-linejoin="miter" fill-opacity="1.0" stroke-opacity="1.0"/>
<polygon points="486.58,414.00 480.78,425.60 492.38,425.60" fill="#1f77b4" stroke="#1f77b4" stroke-width="1" stroke-linejoin="miter" fill-opacity="1.0" stroke-opacity="1.0"/>
<polygon points="96.50,478.70 145.26,469.50 194.02,460.70 242.78,451.30 291.54,443.30 340.30,436.40 389.06,428.90 437.82,422.20 486.58,416.50 486.58,419.50 437.82,425.20 389.06,431.90 340.30,439.40 291.54,446.30 242.78,454.30 194.02,463.70 145.26,472.50 96.50,481.70" fill="#2ca02c" fill-opacity="0.2" stroke="none"/>
<polyline points="96.50,480.20 145.26,471.00 194.02,462.20 242.78,452.80 291.54,444.80 340.30,437.90 389.06,430.40 437.82,423.70 486.58,418.00" fill="none" stroke="#2ca02c" stroke-opacity="1.0" stroke-width="3.0" stroke-linejoin="round" stroke-linecap="butt"/>
<polygon points="96.50,486.00 90.70,474.40 102.30,474.40" fill="#2ca02c" stroke="#2ca02c" stroke-width="1" stroke-linejoin="miter" fill-opacity="1.0" stroke-opacity="1.0"/>
<polygon points="145.26,476.80 139.46,465.20 151.06,465.20" fill="#2ca02c" stroke="#2ca02c" stroke-width="1" stroke-linejoin="miter" fill-opacity="1.0" stroke-opacity="1.0"/>
<polygon points="194.02,468.00 188.22,456.40 199.82,456.40" fill="#2ca02c" stroke="#2ca02c" stroke-width="1" stroke-linejoin="miter" fill-opacity="1.0" stroke-opacity="1.0"/>
<polygon points="242.78,458.60 236.98,447.00 248.58,447.00" fill="#2ca02c" stroke="#2ca02c" stroke-width="1" stroke-linejoin="miter" fill-opacity="1.0" stroke-opacity="1.0"/>
<polygon points="291.54,450.60 285.74,439.00 297.34,439.00" fill="#2ca02c" stroke="#2ca02c" stroke-width="1" stroke-linejoin="miter" fill-opacity="1.0" stroke-opacity="1.0"/>
<polygon points="340.30,443.70 334.50,432.10 346.10,432.10" fill="#2ca02c" stroke="#2ca02c" stroke-width="1" stroke-linejoin="miter" fill-opacity="1.0" stroke-opacity="1.0"/>
<polygon points="389.06,436.20 383.26,424.60 394.86,424.60" fill="#2ca02c" stroke="#2ca02c" stroke-width="1" stroke-linejoin="miter" fill-opacity="1.0" stroke-opacity="1.0"/>
<polygon points="437.82,429.50 432.02,417.90 443.62,417.90" fill="#2ca02c" stroke="#2ca02c" stroke-width="1" stroke-linejoin="miter" fill-opacity="1.0" stroke-opacity="1.0"/>
<polygon points="486.58,423.80 480.78,412.20 492.38,412.20" fill="#2ca02c" stroke="#2ca02c" stroke-width="1" stroke-linejoin="miter" fill-opacity="1.0" stroke-opacity="1.0"/>
<polygon points="96.50,522.10 145.26,509.80 194.02,495.90 242.78,482.20 291.54,468.10 340.30,452.00 389.06,433.60 437.82,417.60 486.58,407.10 486.58,410.10 437.82,420.60 389.06,436.60 340.30,455.00 291.54,471.10 242.78,485.20 194.02,498.90 145.26,512.80 96.50,525.10" fill="#d62728" fill-opacity="0.2" stroke="none"/>
<polyline points="96.50,523.60 145.26,511.30 194.02,497.40 242.78,483.70 291.54,469.60 340.30,453.50 389.06,435.10 437.82,419.10 486.58,408.60" fill="none" stroke="#d62728" stroke-opacity="1.0" stroke-width="3.0" stroke-linejoin="round" stroke-linecap="butt"/>
<polygon points="90.70,523.60 102.30,517.80 102.30,529.40" fill="#d62728" stroke="#d62728" stroke-width="1" stroke-linejoin="miter" fill-opacity="1.0" stroke-opacity="1.0"/>
<polygon points="139.46,511.30 151.06,505.50 151.06,517.10" fill="#d62728" stroke="#d62728" stroke-width="1" stroke-linejoin="miter" fill-opacity="1.0" stroke-opacity="1.0"/>
<polygon points="188.22,497.40 199.82,491.60 199.82,503.20" fill="#d62728" stroke="#d62728" stroke-width="1" stroke-linejoin="miter" fill-opacity="1.0" stroke-opacity="1.0"/>
<polygon points="236.98,483.70 248.58,477.90 248.58,489.50" fill="#d62728" stroke="#d62728" stroke-width="1" stroke-linejoin="miter" fill-opacity="1.0" stroke-opacity="1.0"/>
<polygon points="285.74,469.60 297.34,463.80 297.34,475.40" fill="#d62728" stroke="#d62728" stroke-width="1" stroke-linejoin="miter" fill-opacity="1.0" stroke-opacity="1.0"/>
<polygon points="334.50,453.50 346.10,447.70 346.10,459.30" fill="#d62728" stroke="#d62728" stroke-width="1" stroke-linejoin="miter" fill-opacity="1.0" stroke-opacity="1.0"/>
<polygon points="383.26,435.10 394.86,429.30 394.86,440.90" fill="#d62728" stroke="#d62728" stroke-width="1" stroke-linejoin="miter" fill-opacity="1.0" stroke-opacity="1.0"/>
<polygon points="432.02,419.10 443.62,413.30 443.62,424.90" fill="#d62728" stroke="#d62728" stroke-width="1" stroke-linejoin="miter" fill-opacity="1.0" stroke-opacity="1.0"/>
<polygon points="480.78,408.60 492.38,402.80 492.38,414.40" fill="#d62728" stroke="#d62728" stroke-width="1" stroke-linejoin="miter" fill-opacity="1.0" stroke-opacity="1.0"/>
<polygon points="96.50,590.00 145.26,575.50 194.02,551.90 242.78,517.50 291.54,479.50 340.30,452.00 389.06,433.60 437.82,417.60 486.58,406.80 486.58,409.80 437.82,420.60 389.06,436.60 340.30,455.00 291.54,482.50 242.78,520.50 194.02,555.90 145.26,581.50 96.50,600.00" fill="#ff7f0e" fill-opacity="0.2" stroke="none"/>
<polyline points="96.50,595.00 145.26,578.50 194.02,553.90 242.78,519.00 291.54,481.00 340.30,453.50 389.06,435.10 437.82,419.10 486.58,408.30" fill="none" stroke="#ff7f0e" stroke-opacity="1.0" stroke-width="3.0" stroke-linejoin="round" stroke-linecap="butt"/>
<polygon points="102.30,595.00 90.70,589.20 90.70,600.80" fill="#ff7f0e" stroke="#ff7f0e" stroke-width="1" stroke-linejoin="miter" fill-opacity="1.0" stroke-opacity="1.0"/>
<polygon points="151.06,578.50 139.46,572.70 139.46,584.30" fill="#ff7f0e" stroke="#ff7f0e" stroke-width="1" stroke-linejoin="miter" fill-opacity="1.0" stroke-opacity="1.0"/>
<polygon points="199.82,553.90 188.22,548.10 188.22,559.70" fill="#ff7f0e" stroke="#ff7f0e" stroke-width="1" stroke-linejoin="miter" fill-opacity="1.0" stroke-opacity="1.0"/>
<polygon points="248.58,519.00 236.98,513.20 236.98,524.80" fill="#ff7f0e" stroke="#ff7f0e" stroke-width="1" stroke-linejoin="miter" fill-opacity="1.0" stroke-opacity="1.0"/>
<polygon points="297.34,481.00 285.74,475.20 285.74,486.80" fill="#ff7f0e" stroke="#ff7f0e" stroke-width="1" stroke-linejoin="miter" fill-opacity="1.0" stroke-opacity="1.0"/>
<polygon points="346.10,453.50 334.50,447.70 334.50,459.30" fill="#ff7f0e" stroke="#ff7f0e" stroke-width="1" stroke-linejoin="miter" fill-opacity="1.0" stroke-opacity="1.0"/>
<polygon points="394.86,435.10 383.26,429.30 383.26,440.90" fill="#ff7f0e" stroke="#ff7f0e" stroke-width="1" stroke-linejoin="miter" fill-opacity="1.0" stroke-opacity="1.0"/>
<polygon points="443.62,419.10 432.02,413.30 432.02,424.90" fill="#ff7f0e" stroke="#ff7f0e" stroke-width="1" stroke-linejoin="miter" fill-opacity="1.0" stroke-opacity="1.0"/>
<polygon points="492.38,408.30 480.78,402.50 480.78,414.10" fill="#ff7f0e" stroke="#ff7f0e" stroke-width="1" stroke-linejoin="miter" fill-opacity="1.0" stroke-opacity="1.0"/>
<polygon points="96.50,691.00 145.26,649.60 194.02,576.10 242.78,517.60 291.54,479.50 340.30,452.00 389.06,433.60 437.82,417.60 486.58,406.80 486.58,409.80 437.82,420.60 389.06,436.60 340.30,455.00 291.54,482.50 242.78,520.60 194.02,579.10 145.26,652.60 96.50,694.00" fill="#9467bd" fill-opacity="0.2" stroke="none"/>
<polyline points="96.50,692.50 145.26,651.10 194.02,577.60 242.78,519.10 291.54,481.00 340.30,453.50 389.06,435.10 437.82,419.10 486.58,408.30" fill="none" stroke="#9467bd" stroke-opacity="1.0" stroke-width="3.0" stroke-linejoin="round" stroke-linecap="butt"/>
<circle cx="96.50" cy="692.50" r="5.80" fill="#9467bd" stroke="#9467bd" stroke-width="1" stroke-linejoin="miter" fill-opacity="1.0" stroke-opacity="1.0"/>
<circle cx="145.26" cy="651.10" r="5.80" fill="#9467bd" stroke="#9467bd" stroke-width="1" stroke-linejoin="miter" fill-opacity="1.0" stroke-opacity="1.0"/>
<circle cx="194.02" cy="577.60" r="5.80" fill="#9467bd" stroke="#9467bd" stroke-width="1" stroke-linejoin="miter" fill-opacity="1.0" stroke-opacity="1.0"/>
<circle cx="242.78" cy="519.10" r="5.80" fill="#9467bd" stroke="#9467bd" stroke-width="1" stroke-linejoin="miter" fill-opacity="1.0" stroke-opacity="1.0"/>
<circle cx="291.54" cy="481.00" r="5.80" fill="#9467bd" stroke="#9467bd" stroke-width="1" stroke-linejoin="miter" fill-opacity="1.0" stroke-opacity="1.0"/>
<circle cx="340.30" cy="453.50" r="5.80" fill="#9467bd" stroke="#9467bd" stroke-width="1" stroke-linejoin="miter" fill-opacity="1.0" stroke-opacity="1.0"/>
<circle cx="389.06" cy="435.10" r="5.80" fill="#9467bd" stroke="#9467bd" stroke-width="1" stroke-linejoin="miter" fill-opacity="1.0" stroke-opacity="1.0"/>
<circle cx="437.82" cy="419.10" r="5.80" fill="#9467bd" stroke="#9467bd" stroke-width="1" stroke-linejoin="miter" fill-opacity="1.0" stroke-opacity="1.0"/>
<circle cx="486.58" cy="408.30" r="5.80" fill="#9467bd" stroke="#9467bd" stroke-width="1" stroke-linejoin="miter" fill-opacity="1.0" stroke-opacity="1.0"/>
<rect x="76.60" y="393.50" width="429.60" height="313.80" fill="none" stroke="#262626" stroke-width="1"/>
<line x1="96.50" y1="707.30" x2="96.50" y2="710.80" stroke="#262626" stroke-width="0.9"/>
<text x="96.50" y="725.70" font-family="Liberation Sans, sans-serif" font-size="15" text-anchor="middle" fill="#111" stroke="#111" stroke-width="0.12">1</text>
<line x1="145.26" y1="707.30" x2="145.26" y2="710.80" stroke="#262626" stroke-width="0.9"/>
<text x="145.26" y="725.70" font-family="Liberation Sans, sans-serif" font-size="15" text-anchor="middle" fill="#111" stroke="#111" stroke-width="0.12">2</text>
<line x1="194.02" y1="707.30" x2="194.02" y2="710.80" stroke="#262626" stroke-width="0.9"/>
<text x="194.02" y="725.70" font-family="Liberation Sans, sans-serif" font-size="15" text-anchor="middle" fill="#111" stroke="#111" stroke-width="0.12">4</text>
<line x1="242.78" y1="707.30" x2="242.78" y2="710.80" stroke="#262626" stroke-width="0.9"/>
<text x="242.78" y="725.70" font-family="Liberation Sans, sans-serif" font-size="15" text-anchor="middle" fill="#111" stroke="#111" stroke-width="0.12">8</text>
<line x1="291.54" y1="707.30" x2="291.54" y2="710.80" stroke="#262626" stroke-width="0.9"/>
<text x="291.54" y="725.70" font-family="Liberation Sans, sans-serif" font-size="15" textLength="17.2" lengthAdjust="spacingAndGlyphs" text-anchor="middle" fill="#111" stroke="#111" stroke-width="0.12">16</text>
<line x1="340.30" y1="707.30" x2="340.30" y2="710.80" stroke="#262626" stroke-width="0.9"/>
<text x="340.30" y="725.70" font-family="Liberation Sans, sans-serif" font-size="15" textLength="17.2" lengthAdjust="spacingAndGlyphs" text-anchor="middle" fill="#111" stroke="#111" stroke-width="0.12">32</text>
<line x1="389.06" y1="707.30" x2="389.06" y2="710.80" stroke="#262626" stroke-width="0.9"/>
<text x="389.06" y="725.70" font-family="Liberation Sans, sans-serif" font-size="15" textLength="17.2" lengthAdjust="spacingAndGlyphs" text-anchor="middle" fill="#111" stroke="#111" stroke-width="0.12">64</text>
<line x1="437.82" y1="707.30" x2="437.82" y2="710.80" stroke="#262626" stroke-width="0.9"/>
<text x="437.82" y="725.70" font-family="Liberation Sans, sans-serif" font-size="15" textLength="26.3" lengthAdjust="spacingAndGlyphs" text-anchor="middle" fill="#111" stroke="#111" stroke-width="0.12">128</text>
<line x1="486.58" y1="707.30" x2="486.58" y2="710.80" stroke="#262626" stroke-width="0.9"/>
<text x="486.58" y="725.70" font-family="Liberation Sans, sans-serif" font-size="15" textLength="26.3" lengthAdjust="spacingAndGlyphs" text-anchor="middle" fill="#111" stroke="#111" stroke-width="0.12">256</text>
<line x1="73.10" y1="409.30" x2="76.60" y2="409.30" stroke="#262626" stroke-width="0.9"/>
<text x="68.50" y="414.70" font-family="Liberation Sans, sans-serif" font-size="14.6" text-anchor="end" textLength="30.7" lengthAdjust="spacingAndGlyphs" fill="#111" stroke="#111" stroke-width="0.12">0.80</text>
<line x1="73.10" y1="468.75" x2="76.60" y2="468.75" stroke="#262626" stroke-width="0.9"/>
<text x="68.50" y="474.15" font-family="Liberation Sans, sans-serif" font-size="14.6" text-anchor="end" textLength="30.7" lengthAdjust="spacingAndGlyphs" fill="#111" stroke="#111" stroke-width="0.12">0.79</text>
<line x1="73.10" y1="528.20" x2="76.60" y2="528.20" stroke="#262626" stroke-width="0.9"/>
<text x="68.50" y="533.60" font-family="Liberation Sans, sans-serif" font-size="14.6" text-anchor="end" textLength="30.7" lengthAdjust="spacingAndGlyphs" fill="#111" stroke="#111" stroke-width="0.12">0.78</text>
<line x1="73.10" y1="587.65" x2="76.60" y2="587.65" stroke="#262626" stroke-width="0.9"/>
<text x="68.50" y="593.05" font-family="Liberation Sans, sans-serif" font-size="14.6" text-anchor="end" textLength="30.7" lengthAdjust="spacingAndGlyphs" fill="#111" stroke="#111" stroke-width="0.12">0.77</text>
<line x1="73.10" y1="647.10" x2="76.60" y2="647.10" stroke="#262626" stroke-width="0.9"/>
<text x="68.50" y="652.50" font-family="Liberation Sans, sans-serif" font-size="14.6" text-anchor="end" textLength="30.7" lengthAdjust="spacingAndGlyphs" fill="#111" stroke="#111" stroke-width="0.12">0.76</text>
<line x1="73.10" y1="706.55" x2="76.60" y2="706.55" stroke="#262626" stroke-width="0.9"/>
<text x="68.50" y="711.95" font-family="Liberation Sans, sans-serif" font-size="14.6" text-anchor="end" textLength="30.7" lengthAdjust="spacingAndGlyphs" fill="#111" stroke="#111" stroke-width="0.12">0.75</text>
<text x="291.50" y="747.80" font-family="Liberation Sans, sans-serif" font-style="italic" font-size="21" text-anchor="middle" fill="#111" stroke="#111" stroke-width="0.12">ε</text>
<text transform="translate(29.00,551.10) rotate(-90)" x="0" y="0" font-family="Liberation Sans, sans-serif" font-size="20.5" text-anchor="middle" textLength="40" lengthAdjust="spacingAndGlyphs" fill="#111" stroke="#111" stroke-width="0.12">AUC</text>
<rect x="277.90" y="557.70" width="219.00" height="140.30" rx="3" ry="3" fill="#fff" fill-opacity="0.8" stroke="#cccccc" stroke-width="1"/>
<line x1="282.90" y1="572.30" x2="320.40" y2="572.30" stroke="#1f77b4" stroke-opacity="1.0" stroke-width="3.0"/>
<polygon points="302.00,566.50 296.20,578.10 307.80,578.10" fill="#1f77b4" stroke="#1f77b4" stroke-width="1" stroke-linejoin="miter" fill-opacity="1.0" stroke-opacity="1.0"/>
<line x1="282.90" y1="599.80" x2="320.40" y2="599.80" stroke="#2ca02c" stroke-opacity="1.0" stroke-width="3.0"/>
<polygon points="302.00,605.60 296.20,594.00 307.80,594.00" fill="#2ca02c" stroke="#2ca02c" stroke-width="1" stroke-linejoin="miter" fill-opacity="1.0" stroke-opacity="1.0"/>
<line x1="282.90" y1="629.00" x2="320.40" y2="629.00" stroke="#d62728" stroke-opacity="1.0" stroke-width="3.0"/>
<polygon points="296.20,629.00 307.80,623.20 307.80,634.80" fill="#d62728" stroke="#d62728" stroke-width="1" stroke-linejoin="miter" fill-opacity="1.0" stroke-opacity="1.0"/>
<line x1="282.90" y1="655.90" x2="320.40" y2="655.90" stroke="#ff7f0e" stroke-opacity="1.0" stroke-width="3.0"/>
<polygon points="307.80,655.90 296.20,650.10 296.20,661.70" fill="#ff7f0e" stroke="#ff7f0e" stroke-width="1" stroke-linejoin="miter" fill-opacity="1.0" stroke-opacity="1.0"/>
<line x1="282.90" y1="682.20" x2="320.40" y2="682.20" stroke="#9467bd" stroke-opacity="1.0" stroke-width="3.0"/>
<circle cx="302.00" cy="682.20" r="5.80" fill="#9467bd" stroke="#9467bd" stroke-width="1" stroke-linejoin="miter" fill-opacity="1.0" stroke-opacity="1.0"/>
<g transform="translate(333.10,578.80)" fill="none" stroke="#111" stroke-linecap="round"><path d="M 1.2,-9.6 C 2.6,-12.0 5.6,-13.0 8.6,-12.8 C 11.6,-12.6 12.9,-11.0 12.3,-8.9 C 11.6,-6.4 9.0,-4.5 5.9,-4.8" stroke-width="1.15"/><path d="M 6.6,-12.0 C 5.7,-8.0 4.2,-3.2 2.0,-0.5 C 1.5,0.1 0.8,0.1 0.6,-0.2" stroke-width="1.6"/></g>
<text x="350.70" y="578.80" font-family="Liberation Sans, sans-serif" font-size="15.6" textLength="35" lengthAdjust="spacingAndGlyphs" fill="#111" stroke="#111" stroke-width="0.12">(UB)</text>
<g transform="translate(333.70,605.40) scale(0.95,0.9)" fill="none" stroke="#111" stroke-linecap="round"><path d="M 10.8,-10.3 C 10.4,-11.9 9.0,-12.5 7.5,-12.4 C 5.0,-12.2 3.2,-10.6 3.7,-8.6 C 4.2,-6.8 6.5,-6.1 8.2,-5.3 C 10.0,-4.5 10.8,-3.3 10.2,-2.1 C 9.3,-0.5 7.0,-0.5 5.3,-0.5 C 3.0,-0.5 1.2,-1.7 0.4,-3.2" stroke-width="1.45"/><circle cx="10.7" cy="-10.1" r="1.0" fill="#111" stroke="none"/></g>
<g transform="translate(333.10,605.60)" fill="none" stroke="#111" stroke-width="1.1" stroke-linecap="round"><path d="M 16.9,-13.6 C 15.9,-12.6 15.3,-11.2 15.7,-9.7 C 16.2,-8.0 17.6,-7.3 18.9,-7.3 C 20.8,-7.3 22.3,-8.8 22.2,-10.6 C 22.1,-11.8 21.6,-12.5 20.9,-13.0"/><path d="M 14.7,-14.4 L 17.0,-13.9 L 17.4,-11.8" stroke-width="1.0"/></g>
<text x="365.40" y="605.60" font-family="Liberation Sans, sans-serif" font-size="15.6" fill="#111" stroke="#111" stroke-width="0.12">(</text>
<g transform="translate(371.10,605.60)" fill="none" stroke="#111" stroke-linecap="round"><path d="M 1.2,-9.6 C 2.6,-12.0 5.6,-13.0 8.6,-12.8 C 11.6,-12.6 12.9,-11.0 12.3,-8.9 C 11.6,-6.4 9.0,-4.5 5.9,-4.8" stroke-width="1.15"/><path d="M 6.6,-12.0 C 5.7,-8.0 4.2,-3.2 2.0,-0.5 C 1.5,0.1 0.8,0.1 0.6,-0.2" stroke-width="1.6"/></g>
<text x="389.60" y="605.60" font-family="Liberation Sans, sans-serif" font-size="15.6" textLength="101" lengthAdjust="spacingAndGlyphs" fill="#111" stroke="#111" stroke-width="0.12">accounting)</text>
<g transform="translate(333.70,635.10) scale(0.95,0.9)" fill="none" stroke="#111" stroke-linecap="round"><path d="M 10.8,-10.3 C 10.4,-11.9 9.0,-12.5 7.5,-12.4 C 5.0,-12.2 3.2,-10.6 3.7,-8.6 C 4.2,-6.8 6.5,-6.1 8.2,-5.3 C 10.0,-4.5 10.8,-3.3 10.2,-2.1 C 9.3,-0.5 7.0,-0.5 5.3,-0.5 C 3.0,-0.5 1.2,-1.7 0.4,-3.2" stroke-width="1.45"/><circle cx="10.7" cy="-10.1" r="1.0" fill="#111" stroke="none"/></g>
<g transform="translate(333.10,635.30)" fill="none" stroke="#111" stroke-width="1.1" stroke-linecap="round"><path d="M 16.9,-13.6 C 15.9,-12.6 15.3,-11.2 15.7,-9.7 C 16.2,-8.0 17.6,-7.3 18.9,-7.3 C 20.8,-7.3 22.3,-8.8 22.2,-10.6 C 22.1,-11.8 21.6,-12.5 20.9,-13.0"/><path d="M 14.7,-14.4 L 17.0,-13.9 L 17.4,-11.8" stroke-width="1.0"/></g>
<text x="365.40" y="635.30" font-family="Liberation Sans, sans-serif" font-size="15.6" textLength="34" lengthAdjust="spacingAndGlyphs" fill="#111" stroke="#111" stroke-width="0.12">(LB)</text>
<g transform="translate(333.70,662.00) scale(0.95,0.9)" fill="none" stroke="#111" stroke-linecap="round"><path d="M 10.8,-10.3 C 10.4,-11.9 9.0,-12.5 7.5,-12.4 C 5.0,-12.2 3.2,-10.6 3.7,-8.6 C 4.2,-6.8 6.5,-6.1 8.2,-5.3 C 10.0,-4.5 10.8,-3.3 10.2,-2.1 C 9.3,-0.5 7.0,-0.5 5.3,-0.5 C 3.0,-0.5 1.2,-1.7 0.4,-3.2" stroke-width="1.45"/><circle cx="10.7" cy="-10.1" r="1.0" fill="#111" stroke="none"/></g>
<path d="M 348.10 648.70 L 350.80 651.40 L 348.10 654.10 L 345.40 651.40 Z" fill="none" stroke="#111" stroke-width="1.0"/>
<text x="358.40" y="662.20" font-family="Liberation Sans, sans-serif" font-size="15.6" textLength="34" lengthAdjust="spacingAndGlyphs" fill="#111" stroke="#111" stroke-width="0.12">(LB)</text>
<g transform="translate(333.10,687.50)" fill="none" stroke="#111" stroke-linecap="round"><path d="M 0.8,-8.6 C 1.9,-10.9 4.6,-11.6 7.6,-11.4 C 12.1,-11.0 14.3,-8.4 13.7,-5.4 C 13.0,-1.9 10.0,0.2 6.5,0.4 L 1.4,0.5" stroke-width="1.15"/><path d="M 6.7,-11.2 C 5.6,-7.0 4.4,-3.0 2.3,0.1" stroke-width="1.7"/></g>
<text x="353.10" y="687.50" font-family="Liberation Sans, sans-serif" font-size="15.6" fill="#111" stroke="#111" stroke-width="0.12">(</text>
<path transform="translate(333.10,687.50)" d="M 27.8,-4.4 C 29.5,-6.6 31.5,-6.7 33.3,-5.3 C 35.0,-3.9 37.0,-3.8 38.8,-6.0" fill="none" stroke="#111" stroke-width="1.25" stroke-linecap="round"/>
<text x="374.70" y="687.50" font-family="Liberation Sans, sans-serif" font-size="15.6" textLength="53.5" lengthAdjust="spacingAndGlyphs" fill="#111" stroke="#111" stroke-width="0.12">Exact)</text>
<polyline points="648.80,567.60 697.50,578.30 746.20,590.40 794.90,603.30 843.60,617.00 892.30,629.50 941.00,642.10 989.70,657.10 1038.40,672.00" fill="none" stroke="#1f77b4" stroke-opacity="0.75" stroke-width="3.0" stroke-linejoin="round" stroke-linecap="butt"/>
<polygon points="648.80,561.80 643.00,573.40 654.60,573.40" fill="#1f77b4" stroke="#1f77b4" stroke-width="1" stroke-linejoin="miter" fill-opacity="0.75" stroke-opacity="0.75"/>
<polygon points="697.50,572.50 691.70,584.10 703.30,584.10" fill="#1f77b4" stroke="#1f77b4" stroke-width="1" stroke-linejoin="miter" fill-opacity="0.75" stroke-opacity="0.75"/>
<polygon points="746.20,584.60 740.40,596.20 752.00,596.20" fill="#1f77b4" stroke="#1f77b4" stroke-width="1" stroke-linejoin="miter" fill-opacity="0.75" stroke-opacity="0.75"/>
<polygon points="794.90,597.50 789.10,609.10 800.70,609.10" fill="#1f77b4" stroke="#1f77b4" stroke-width="1" stroke-linejoin="miter" fill-opacity="0.75" stroke-opacity="0.75"/>
<polygon points="843.60,611.20 837.80,622.80 849.40,622.80" fill="#1f77b4" stroke="#1f77b4" stroke-width="1" stroke-linejoin="miter" fill-opacity="0.75" stroke-opacity="0.75"/>
<polygon points="892.30,623.70 886.50,635.30 898.10,635.30" fill="#1f77b4" stroke="#1f77b4" stroke-width="1" stroke-linejoin="miter" fill-opacity="0.75" stroke-opacity="0.75"/>
<polygon points="941.00,636.30 935.20,647.90 946.80,647.90" fill="#1f77b4" stroke="#1f77b4" stroke-width="1" stroke-linejoin="miter" fill-opacity="0.75" stroke-opacity="0.75"/>
<polygon points="989.70,651.30 983.90,662.90 995.50,662.90" fill="#1f77b4" stroke="#1f77b4" stroke-width="1" stroke-linejoin="miter" fill-opacity="0.75" stroke-opacity="0.75"/>
<polygon points="1038.40,666.20 1032.60,677.80 1044.20,677.80" fill="#1f77b4" stroke="#1f77b4" stroke-width="1" stroke-linejoin="miter" fill-opacity="0.75" stroke-opacity="0.75"/>
<polyline points="648.80,567.20 697.50,577.90 746.20,590.00 794.90,602.90 843.60,616.60 892.30,629.10 941.00,641.70 989.70,656.70 1038.40,671.60" fill="none" stroke="#2ca02c" stroke-opacity="0.75" stroke-width="3.0" stroke-linejoin="round" stroke-linecap="butt"/>
<polygon points="648.80,573.00 643.00,561.40 654.60,561.40" fill="#2ca02c" stroke="#2ca02c" stroke-width="1" stroke-linejoin="miter" fill-opacity="0.75" stroke-opacity="0.75"/>
<polygon points="697.50,583.70 691.70,572.10 703.30,572.10" fill="#2ca02c" stroke="#2ca02c" stroke-width="1" stroke-linejoin="miter" fill-opacity="0.75" stroke-opacity="0.75"/>
<polygon points="746.20,595.80 740.40,584.20 752.00,584.20" fill="#2ca02c" stroke="#2ca02c" stroke-width="1" stroke-linejoin="miter" fill-opacity="0.75" stroke-opacity="0.75"/>
<polygon points="794.90,608.70 789.10,597.10 800.70,597.10" fill="#2ca02c" stroke="#2ca02c" stroke-width="1" stroke-linejoin="miter" fill-opacity="0.75" stroke-opacity="0.75"/>
<polygon points="843.60,622.40 837.80,610.80 849.40,610.80" fill="#2ca02c" stroke="#2ca02c" stroke-width="1" stroke-linejoin="miter" fill-opacity="0.75" stroke-opacity="0.75"/>
<polygon points="892.30,634.90 886.50,623.30 898.10,623.30" fill="#2ca02c" stroke="#2ca02c" stroke-width="1" stroke-linejoin="miter" fill-opacity="0.75" stroke-opacity="0.75"/>
<polygon points="941.00,647.50 935.20,635.90 946.80,635.90" fill="#2ca02c" stroke="#2ca02c" stroke-width="1" stroke-linejoin="miter" fill-opacity="0.75" stroke-opacity="0.75"/>
<polygon points="989.70,662.50 983.90,650.90 995.50,650.90" fill="#2ca02c" stroke="#2ca02c" stroke-width="1" stroke-linejoin="miter" fill-opacity="0.75" stroke-opacity="0.75"/>
<polygon points="1038.40,677.40 1032.60,665.80 1044.20,665.80" fill="#2ca02c" stroke="#2ca02c" stroke-width="1" stroke-linejoin="miter" fill-opacity="0.75" stroke-opacity="0.75"/>
<polyline points="648.80,526.00 697.50,535.40 746.20,548.90 794.90,563.10 843.60,578.80 892.30,602.10 941.00,634.90 989.70,665.30 1038.40,692.60" fill="none" stroke="#d62728" stroke-opacity="0.75" stroke-width="3.0" stroke-linejoin="round" stroke-linecap="butt"/>
<polygon points="643.00,526.00 654.60,520.20 654.60,531.80" fill="#d62728" stroke="#d62728" stroke-width="1" stroke-linejoin="miter" fill-opacity="0.75" stroke-opacity="0.75"/>
<polygon points="691.70,535.40 703.30,529.60 703.30,541.20" fill="#d62728" stroke="#d62728" stroke-width="1" stroke-linejoin="miter" fill-opacity="0.75" stroke-opacity="0.75"/>
<polygon points="740.40,548.90 752.00,543.10 752.00,554.70" fill="#d62728" stroke="#d62728" stroke-width="1" stroke-linejoin="miter" fill-opacity="0.75" stroke-opacity="0.75"/>
<polygon points="789.10,563.10 800.70,557.30 800.70,568.90" fill="#d62728" stroke="#d62728" stroke-width="1" stroke-linejoin="miter" fill-opacity="0.75" stroke-opacity="0.75"/>
<polygon points="837.80,578.80 849.40,573.00 849.40,584.60" fill="#d62728" stroke="#d62728" stroke-width="1" stroke-linejoin="miter" fill-opacity="0.75" stroke-opacity="0.75"/>
<polygon points="886.50,602.10 898.10,596.30 898.10,607.90" fill="#d62728" stroke="#d62728" stroke-width="1" stroke-linejoin="miter" fill-opacity="0.75" stroke-opacity="0.75"/>
<polygon points="935.20,634.90 946.80,629.10 946.80,640.70" fill="#d62728" stroke="#d62728" stroke-width="1" stroke-linejoin="miter" fill-opacity="0.75" stroke-opacity="0.75"/>
<polygon points="983.90,665.30 995.50,659.50 995.50,671.10" fill="#d62728" stroke="#d62728" stroke-width="1" stroke-linejoin="miter" fill-opacity="0.75" stroke-opacity="0.75"/>
<polygon points="1032.60,692.60 1044.20,686.80 1044.20,698.40" fill="#d62728" stroke="#d62728" stroke-width="1" stroke-linejoin="miter" fill-opacity="0.75" stroke-opacity="0.75"/>
<polyline points="648.80,477.60 697.50,487.80 746.20,502.60 794.90,529.00 843.60,566.70 892.30,602.10 941.00,634.90 989.70,665.30 1038.40,692.60" fill="none" stroke="#ff7f0e" stroke-opacity="0.75" stroke-width="3.0" stroke-linejoin="round" stroke-linecap="butt"/>
<polygon points="654.60,477.60 643.00,471.80 643.00,483.40" fill="#ff7f0e" stroke="#ff7f0e" stroke-width="1" stroke-linejoin="miter" fill-opacity="0.75" stroke-opacity="0.75"/>
<polygon points="703.30,487.80 691.70,482.00 691.70,493.60" fill="#ff7f0e" stroke="#ff7f0e" stroke-width="1" stroke-linejoin="miter" fill-opacity="0.75" stroke-opacity="0.75"/>
<polygon points="752.00,502.60 740.40,496.80 740.40,508.40" fill="#ff7f0e" stroke="#ff7f0e" stroke-width="1" stroke-linejoin="miter" fill-opacity="0.75" stroke-opacity="0.75"/>
<polygon points="800.70,529.00 789.10,523.20 789.10,534.80" fill="#ff7f0e" stroke="#ff7f0e" stroke-width="1" stroke-linejoin="miter" fill-opacity="0.75" stroke-opacity="0.75"/>
<polygon points="849.40,566.70 837.80,560.90 837.80,572.50" fill="#ff7f0e" stroke="#ff7f0e" stroke-width="1" stroke-linejoin="miter" fill-opacity="0.75" stroke-opacity="0.75"/>
<polygon points="898.10,602.10 886.50,596.30 886.50,607.90" fill="#ff7f0e" stroke="#ff7f0e" stroke-width="1" stroke-linejoin="miter" fill-opacity="0.75" stroke-opacity="0.75"/>
<polygon points="946.80,634.90 935.20,629.10 935.20,640.70" fill="#ff7f0e" stroke="#ff7f0e" stroke-width="1" stroke-linejoin="miter" fill-opacity="0.75" stroke-opacity="0.75"/>
<polygon points="995.50,665.30 983.90,659.50 983.90,671.10" fill="#ff7f0e" stroke="#ff7f0e" stroke-width="1" stroke-linejoin="miter" fill-opacity="0.75" stroke-opacity="0.75"/>
<polygon points="1044.20,692.60 1032.60,686.80 1032.60,698.40" fill="#ff7f0e" stroke="#ff7f0e" stroke-width="1" stroke-linejoin="miter" fill-opacity="0.75" stroke-opacity="0.75"/>
<polyline points="648.80,407.60 697.50,448.80 746.20,489.70 794.90,529.00 843.60,566.70 892.30,602.10 941.00,634.90 989.70,665.30 1038.40,692.60" fill="none" stroke="#9467bd" stroke-opacity="0.75" stroke-width="3.0" stroke-linejoin="round" stroke-linecap="butt"/>
<circle cx="648.80" cy="407.60" r="5.80" fill="#9467bd" stroke="#9467bd" stroke-width="1" stroke-linejoin="miter" fill-opacity="0.75" stroke-opacity="0.75"/>
<circle cx="697.50" cy="448.80" r="5.80" fill="#9467bd" stroke="#9467bd" stroke-width="1" stroke-linejoin="miter" fill-opacity="0.75" stroke-opacity="0.75"/>
<circle cx="746.20" cy="489.70" r="5.80" fill="#9467bd" stroke="#9467bd" stroke-width="1" stroke-linejoin="miter" fill-opacity="0.75" stroke-opacity="0.75"/>
<circle cx="794.90" cy="529.00" r="5.80" fill="#9467bd" stroke="#9467bd" stroke-width="1" stroke-linejoin="miter" fill-opacity="0.75" stroke-opacity="0.75"/>
<circle cx="843.60" cy="566.70" r="5.80" fill="#9467bd" stroke="#9467bd" stroke-width="1" stroke-linejoin="miter" fill-opacity="0.75" stroke-opacity="0.75"/>
<circle cx="892.30" cy="602.10" r="5.80" fill="#9467bd" stroke="#9467bd" stroke-width="1" stroke-linejoin="miter" fill-opacity="0.75" stroke-opacity="0.75"/>
<circle cx="941.00" cy="634.90" r="5.80" fill="#9467bd" stroke="#9467bd" stroke-width="1" stroke-linejoin="miter" fill-opacity="0.75" stroke-opacity="0.75"/>
<circle cx="989.70" cy="665.30" r="5.80" fill="#9467bd" stroke="#9467bd" stroke-width="1" stroke-linejoin="miter" fill-opacity="0.75" stroke-opacity="0.75"/>
<circle cx="1038.40" cy="692.60" r="5.80" fill="#9467bd" stroke="#9467bd" stroke-width="1" stroke-linejoin="miter" fill-opacity="0.75" stroke-opacity="0.75"/>
<rect x="629.20" y="393.50" width="429.10" height="313.70" fill="none" stroke="#262626" stroke-width="1"/>
<line x1="648.80" y1="707.20" x2="648.80" y2="710.70" stroke="#262626" stroke-width="0.9"/>
<text x="648.80" y="725.60" font-family="Liberation Sans, sans-serif" font-size="15" text-anchor="middle" fill="#111" stroke="#111" stroke-width="0.12">1</text>
<line x1="697.50" y1="707.20" x2="697.50" y2="710.70" stroke="#262626" stroke-width="0.9"/>
<text x="697.50" y="725.60" font-family="Liberation Sans, sans-serif" font-size="15" text-anchor="middle" fill="#111" stroke="#111" stroke-width="0.12">2</text>
<line x1="746.20" y1="707.20" x2="746.20" y2="710.70" stroke="#262626" stroke-width="0.9"/>
<text x="746.20" y="725.60" font-family="Liberation Sans, sans-serif" font-size="15" text-anchor="middle" fill="#111" stroke="#111" stroke-width="0.12">4</text>
<line x1="794.90" y1="707.20" x2="794.90" y2="710.70" stroke="#262626" stroke-width="0.9"/>
<text x="794.90" y="725.60" font-family="Liberation Sans, sans-serif" font-size="15" text-anchor="middle" fill="#111" stroke="#111" stroke-width="0.12">8</text>
<line x1="843.60" y1="707.20" x2="843.60" y2="710.70" stroke="#262626" stroke-width="0.9"/>
<text x="843.60" y="725.60" font-family="Liberation Sans, sans-serif" font-size="15" textLength="17.2" lengthAdjust="spacingAndGlyphs" text-anchor="middle" fill="#111" stroke="#111" stroke-width="0.12">16</text>
<line x1="892.30" y1="707.20" x2="892.30" y2="710.70" stroke="#262626" stroke-width="0.9"/>
<text x="892.30" y="725.60" font-family="Liberation Sans, sans-serif" font-size="15" textLength="17.2" lengthAdjust="spacingAndGlyphs" text-anchor="middle" fill="#111" stroke="#111" stroke-width="0.12">32</text>
<line x1="941.00" y1="707.20" x2="941.00" y2="710.70" stroke="#262626" stroke-width="0.9"/>
<text x="941.00" y="725.60" font-family="Liberation Sans, sans-serif" font-size="15" textLength="17.2" lengthAdjust="spacingAndGlyphs" text-anchor="middle" fill="#111" stroke="#111" stroke-width="0.12">64</text>
<line x1="989.70" y1="707.20" x2="989.70" y2="710.70" stroke="#262626" stroke-width="0.9"/>
<text x="989.70" y="725.60" font-family="Liberation Sans, sans-serif" font-size="15" textLength="26.3" lengthAdjust="spacingAndGlyphs" text-anchor="middle" fill="#111" stroke="#111" stroke-width="0.12">128</text>
<line x1="1038.40" y1="707.20" x2="1038.40" y2="710.70" stroke="#262626" stroke-width="0.9"/>
<text x="1038.40" y="725.60" font-family="Liberation Sans, sans-serif" font-size="15" textLength="26.3" lengthAdjust="spacingAndGlyphs" text-anchor="middle" fill="#111" stroke="#111" stroke-width="0.12">256</text>
<line x1="625.70" y1="706.90" x2="629.20" y2="706.90" stroke="#262626" stroke-width="0.9"/>
<line x1="627.20" y1="662.83" x2="629.20" y2="662.83" stroke="#262626" stroke-width="0.7"/>
<line x1="627.20" y1="637.05" x2="629.20" y2="637.05" stroke="#262626" stroke-width="0.7"/>
<line x1="627.20" y1="618.76" x2="629.20" y2="618.76" stroke="#262626" stroke-width="0.7"/>
<line x1="627.20" y1="604.57" x2="629.20" y2="604.57" stroke="#262626" stroke-width="0.7"/>
<line x1="627.20" y1="592.98" x2="629.20" y2="592.98" stroke="#262626" stroke-width="0.7"/>
<line x1="627.20" y1="583.18" x2="629.20" y2="583.18" stroke="#262626" stroke-width="0.7"/>
<line x1="627.20" y1="574.69" x2="629.20" y2="574.69" stroke="#262626" stroke-width="0.7"/>
<line x1="627.20" y1="567.20" x2="629.20" y2="567.20" stroke="#262626" stroke-width="0.7"/>
<line x1="625.70" y1="560.50" x2="629.20" y2="560.50" stroke="#262626" stroke-width="0.9"/>
<line x1="627.20" y1="516.43" x2="629.20" y2="516.43" stroke="#262626" stroke-width="0.7"/>
<line x1="627.20" y1="490.65" x2="629.20" y2="490.65" stroke="#262626" stroke-width="0.7"/>
<line x1="627.20" y1="472.36" x2="629.20" y2="472.36" stroke="#262626" stroke-width="0.7"/>
<line x1="627.20" y1="458.17" x2="629.20" y2="458.17" stroke="#262626" stroke-width="0.7"/>
<line x1="627.20" y1="446.58" x2="629.20" y2="446.58" stroke="#262626" stroke-width="0.7"/>
<line x1="627.20" y1="436.78" x2="629.20" y2="436.78" stroke="#262626" stroke-width="0.7"/>
<line x1="627.20" y1="428.29" x2="629.20" y2="428.29" stroke="#262626" stroke-width="0.7"/>
<line x1="627.20" y1="420.80" x2="629.20" y2="420.80" stroke="#262626" stroke-width="0.7"/>
<line x1="625.70" y1="414.10" x2="629.20" y2="414.10" stroke="#262626" stroke-width="0.9"/>
<text x="598.30" y="420.00" font-family="Liberation Sans, sans-serif" font-size="14.6" textLength="16.2" lengthAdjust="spacingAndGlyphs" fill="#111" stroke="#111" stroke-width="0.12">10</text>
<text x="615.60" y="414.60" font-family="Liberation Sans, sans-serif" font-size="10.3" fill="#111" stroke="#111" stroke-width="0.12">1</text>
<text x="598.30" y="566.40" font-family="Liberation Sans, sans-serif" font-size="14.6" textLength="16.2" lengthAdjust="spacingAndGlyphs" fill="#111" stroke="#111" stroke-width="0.12">10</text>
<text x="615.60" y="561.00" font-family="Liberation Sans, sans-serif" font-size="10.3" fill="#111" stroke="#111" stroke-width="0.12">0</text>
<text x="590.90" y="712.60" font-family="Liberation Sans, sans-serif" font-size="14.6" textLength="16.2" lengthAdjust="spacingAndGlyphs" fill="#111" stroke="#111" stroke-width="0.12">10</text>
<text x="607.60" y="707.40" font-family="Liberation Sans, sans-serif" font-size="10.3" textLength="14.4" lengthAdjust="spacingAndGlyphs" fill="#111" stroke="#111" stroke-width="0.12">−1</text>
<text x="843.70" y="747.70" font-family="Liberation Sans, sans-serif" font-style="italic" font-size="21" text-anchor="middle" fill="#111" stroke="#111" stroke-width="0.12">ε</text>
<text transform="translate(580.70,550.40) rotate(-90)" x="0" y="0" font-family="Liberation Sans, sans-serif" font-style="italic" font-size="20" text-anchor="middle" fill="#111" stroke="#111" stroke-width="0.12">σ</text>
<rect x="829.90" y="402.70" width="219.00" height="140.30" rx="3" ry="3" fill="#fff" fill-opacity="0.8" stroke="#cccccc" stroke-width="1"/>
<line x1="834.90" y1="417.30" x2="872.40" y2="417.30" stroke="#1f77b4" stroke-opacity="0.75" stroke-width="3.0"/>
<polygon points="854.00,411.50 848.20,423.10 859.80,423.10" fill="#1f77b4" stroke="#1f77b4" stroke-width="1" stroke-linejoin="miter" fill-opacity="0.75" stroke-opacity="0.75"/>
<line x1="834.90" y1="444.80" x2="872.40" y2="444.80" stroke="#2ca02c" stroke-opacity="0.75" stroke-width="3.0"/>
<polygon points="854.00,450.60 848.20,439.00 859.80,439.00" fill="#2ca02c" stroke="#2ca02c" stroke-width="1" stroke-linejoin="miter" fill-opacity="0.75" stroke-opacity="0.75"/>
<line x1="834.90" y1="474.00" x2="872.40" y2="474.00" stroke="#d62728" stroke-opacity="0.75" stroke-width="3.0"/>
<polygon points="848.20,474.00 859.80,468.20 859.80,479.80" fill="#d62728" stroke="#d62728" stroke-width="1" stroke-linejoin="miter" fill-opacity="0.75" stroke-opacity="0.75"/>
<line x1="834.90" y1="500.90" x2="872.40" y2="500.90" stroke="#ff7f0e" stroke-opacity="0.75" stroke-width="3.0"/>
<polygon points="859.80,500.90 848.20,495.10 848.20,506.70" fill="#ff7f0e" stroke="#ff7f0e" stroke-width="1" stroke-linejoin="miter" fill-opacity="0.75" stroke-opacity="0.75"/>
<line x1="834.90" y1="527.20" x2="872.40" y2="527.20" stroke="#9467bd" stroke-opacity="0.75" stroke-width="3.0"/>
<circle cx="854.00" cy="527.20" r="5.80" fill="#9467bd" stroke="#9467bd" stroke-width="1" stroke-linejoin="miter" fill-opacity="0.75" stroke-opacity="0.75"/>
<g transform="translate(885.10,423.80)" fill="none" stroke="#111" stroke-linecap="round"><path d="M 1.2,-9.6 C 2.6,-12.0 5.6,-13.0 8.6,-12.8 C 11.6,-12.6 12.9,-11.0 12.3,-8.9 C 11.6,-6.4 9.0,-4.5 5.9,-4.8" stroke-width="1.15"/><path d="M 6.6,-12.0 C 5.7,-8.0 4.2,-3.2 2.0,-0.5 C 1.5,0.1 0.8,0.1 0.6,-0.2" stroke-width="1.6"/></g>
<text x="902.70" y="423.80" font-family="Liberation Sans, sans-serif" font-size="15.6" textLength="35" lengthAdjust="spacingAndGlyphs" fill="#111" stroke="#111" stroke-width="0.12">(UB)</text>
<g transform="translate(885.70,450.40) scale(0.95,0.9)" fill="none" stroke="#111" stroke-linecap="round"><path d="M 10.8,-10.3 C 10.4,-11.9 9.0,-12.5 7.5,-12.4 C 5.0,-12.2 3.2,-10.6 3.7,-8.6 C 4.2,-6.8 6.5,-6.1 8.2,-5.3 C 10.0,-4.5 10.8,-3.3 10.2,-2.1 C 9.3,-0.5 7.0,-0.5 5.3,-0.5 C 3.0,-0.5 1.2,-1.7 0.4,-3.2" stroke-width="1.45"/><circle cx="10.7" cy="-10.1" r="1.0" fill="#111" stroke="none"/></g>
<g transform="translate(885.10,450.60)" fill="none" stroke="#111" stroke-width="1.1" stroke-linecap="round"><path d="M 16.9,-13.6 C 15.9,-12.6 15.3,-11.2 15.7,-9.7 C 16.2,-8.0 17.6,-7.3 18.9,-7.3 C 20.8,-7.3 22.3,-8.8 22.2,-10.6 C 22.1,-11.8 21.6,-12.5 20.9,-13.0"/><path d="M 14.7,-14.4 L 17.0,-13.9 L 17.4,-11.8" stroke-width="1.0"/></g>
<text x="917.40" y="450.60" font-family="Liberation Sans, sans-serif" font-size="15.6" fill="#111" stroke="#111" stroke-width="0.12">(</text>
<g transform="translate(923.10,450.60)" fill="none" stroke="#111" stroke-linecap="round"><path d="M 1.2,-9.6 C 2.6,-12.0 5.6,-13.0 8.6,-12.8 C 11.6,-12.6 12.9,-11.0 12.3,-8.9 C 11.6,-6.4 9.0,-4.5 5.9,-4.8" stroke-width="1.15"/><path d="M 6.6,-12.0 C 5.7,-8.0 4.2,-3.2 2.0,-0.5 C 1.5,0.1 0.8,0.1 0.6,-0.2" stroke-width="1.6"/></g>
<text x="941.60" y="450.60" font-family="Liberation Sans, sans-serif" font-size="15.6" textLength="101" lengthAdjust="spacingAndGlyphs" fill="#111" stroke="#111" stroke-width="0.12">accounting)</text>
<g transform="translate(885.70,480.10) scale(0.95,0.9)" fill="none" stroke="#111" stroke-linecap="round"><path d="M 10.8,-10.3 C 10.4,-11.9 9.0,-12.5 7.5,-12.4 C 5.0,-12.2 3.2,-10.6 3.7,-8.6 C 4.2,-6.8 6.5,-6.1 8.2,-5.3 C 10.0,-4.5 10.8,-3.3 10.2,-2.1 C 9.3,-0.5 7.0,-0.5 5.3,-0.5 C 3.0,-0.5 1.2,-1.7 0.4,-3.2" stroke-width="1.45"/><circle cx="10.7" cy="-10.1" r="1.0" fill="#111" stroke="none"/></g>
<g transform="translate(885.10,480.30)" fill="none" stroke="#111" stroke-width="1.1" stroke-linecap="round"><path d="M 16.9,-13.6 C 15.9,-12.6 15.3,-11.2 15.7,-9.7 C 16.2,-8.0 17.6,-7.3 18.9,-7.3 C 20.8,-7.3 22.3,-8.8 22.2,-10.6 C 22.1,-11.8 21.6,-12.5 20.9,-13.0"/><path d="M 14.7,-14.4 L 17.0,-13.9 L 17.4,-11.8" stroke-width="1.0"/></g>
<text x="917.40" y="480.30" font-family="Liberation Sans, sans-serif" font-size="15.6" textLength="34" lengthAdjust="spacingAndGlyphs" fill="#111" stroke="#111" stroke-width="0.12">(LB)</text>
<g transform="translate(885.70,507.00) scale(0.95,0.9)" fill="none" stroke="#111" stroke-linecap="round"><path d="M 10.8,-10.3 C 10.4,-11.9 9.0,-12.5 7.5,-12.4 C 5.0,-12.2 3.2,-10.6 3.7,-8.6 C 4.2,-6.8 6.5,-6.1 8.2,-5.3 C 10.0,-4.5 10.8,-3.3 10.2,-2.1 C 9.3,-0.5 7.0,-0.5 5.3,-0.5 C 3.0,-0.5 1.2,-1.7 0.4,-3.2" stroke-width="1.45"/><circle cx="10.7" cy="-10.1" r="1.0" fill="#111" stroke="none"/></g>
<path d="M 900.10 493.70 L 902.80 496.40 L 900.10 499.10 L 897.40 496.40 Z" fill="none" stroke="#111" stroke-width="1.0"/>
<text x="910.40" y="507.20" font-family="Liberation Sans, sans-serif" font-size="15.6" textLength="34" lengthAdjust="spacingAndGlyphs" fill="#111" stroke="#111" stroke-width="0.12">(LB)</text>
<g transform="translate(885.10,532.50)" fill="none" stroke="#111" stroke-linecap="round"><path d="M 0.8,-8.6 C 1.9,-10.9 4.6,-11.6 7.6,-11.4 C 12.1,-11.0 14.3,-8.4 13.7,-5.4 C 13.0,-1.9 10.0,0.2 6.5,0.4 L 1.4,0.5" stroke-width="1.15"/><path d="M 6.7,-11.2 C 5.6,-7.0 4.4,-3.0 2.3,0.1" stroke-width="1.7"/></g>
<text x="905.10" y="532.50" font-family="Liberation Sans, sans-serif" font-size="15.6" fill="#111" stroke="#111" stroke-width="0.12">(</text>
<path transform="translate(885.10,532.50)" d="M 27.8,-4.4 C 29.5,-6.6 31.5,-6.7 33.3,-5.3 C 35.0,-3.9 37.0,-3.8 38.8,-6.0" fill="none" stroke="#111" stroke-width="1.25" stroke-linecap="round"/>
<text x="926.70" y="532.50" font-family="Liberation Sans, sans-serif" font-size="15.6" textLength="53.5" lengthAdjust="spacingAndGlyphs" fill="#111" stroke="#111" stroke-width="0.12">Exact)</text>
</svg>
</body></html>
